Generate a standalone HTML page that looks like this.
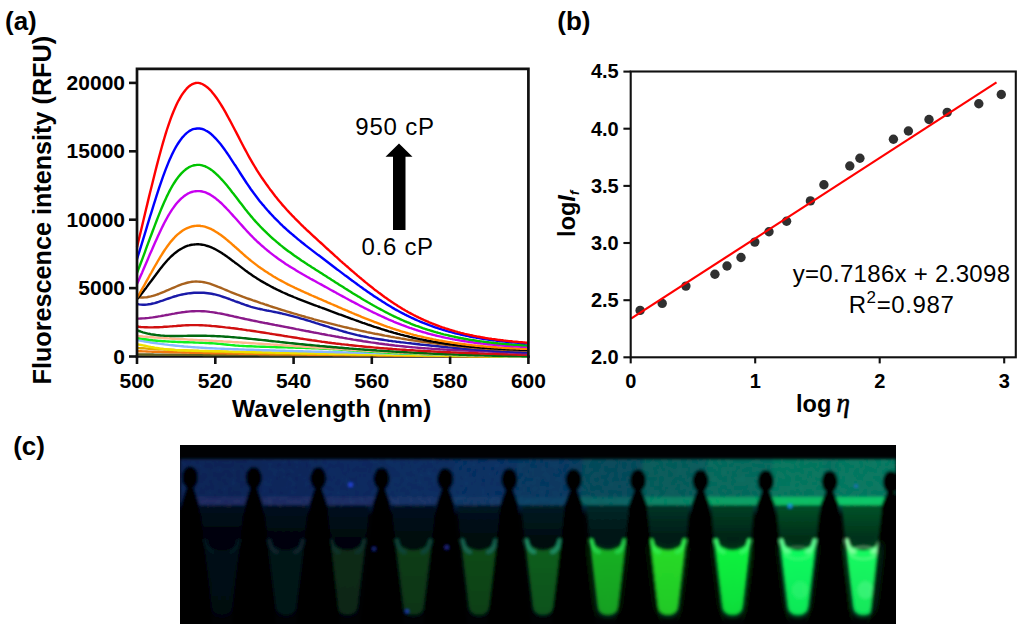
<!DOCTYPE html>
<html><head><meta charset="utf-8"><style>
html,body{margin:0;padding:0;background:#fff;}
body{width:1024px;height:633px;overflow:hidden;}
svg{display:block;}
text{font-family:"Liberation Sans",sans-serif;fill:#000;}
.tb20{font-weight:bold;font-size:21px;}
.tb19{font-weight:bold;font-size:20px;}
.tb24{font-weight:bold;font-size:24.5px;}
.tb25{font-weight:bold;font-size:25.2px;}
.tb23{font-weight:bold;font-size:23.5px;}
.tr23{font-size:24px;}
.pl{font-weight:bold;font-size:26px;}
.eta{font-family:"Liberation Serif",serif;font-style:italic;font-weight:normal;font-size:27px;stroke:#000;stroke-width:0.6px;}
.bi{font-style:italic;}
.sub{font-size:13px;}
.sup{font-size:17px;}
</style></head><body>
<svg width="1024" height="633" viewBox="0 0 1024 633">
<rect width="1024" height="633" fill="#fff"/>
<line x1="135.7" y1="356.5" x2="529.7" y2="356.5" stroke="#111" stroke-width="2.6"/>
<path d="M137.0,354.4 L139.0,354.4 L140.9,354.4 L142.9,354.5 L144.9,354.5 L146.8,354.5 L148.8,354.5 L150.8,354.5 L152.7,354.5 L154.7,354.6 L156.7,354.6 L158.6,354.6 L160.6,354.6 L162.6,354.6 L164.5,354.7 L166.5,354.7 L168.5,354.7 L170.4,354.7 L172.4,354.7 L174.4,354.7 L176.3,354.8 L178.3,354.8 L180.3,354.8 L182.2,354.8 L184.2,354.8 L186.2,354.8 L188.1,354.9 L190.1,354.9 L192.1,354.9 L194.0,354.9 L196.0,354.9 L198.0,354.9 L199.9,354.9 L201.9,354.9 L203.9,355.0 L205.8,355.0 L207.8,355.0 L209.8,355.0 L211.7,355.0 L213.7,355.0 L215.7,355.0 L217.6,355.0 L219.6,355.0 L221.6,355.0 L223.5,355.0 L225.5,355.0 L227.5,355.0 L229.4,355.1 L231.4,355.1 L233.4,355.1 L235.3,355.1 L237.3,355.1 L239.3,355.1 L241.2,355.1 L243.2,355.1 L245.2,355.1 L247.1,355.1 L249.1,355.1 L251.1,355.1 L253.0,355.1 L255.0,355.1 L257.0,355.1 L258.9,355.1 L260.9,355.2 L262.9,355.2 L264.8,355.2 L266.8,355.2 L268.8,355.2 L270.7,355.2 L272.7,355.2 L274.7,355.2 L276.6,355.2 L278.6,355.2 L280.6,355.2 L282.5,355.2 L284.5,355.2 L286.5,355.2 L288.4,355.2 L290.4,355.2 L292.4,355.2 L294.3,355.3 L296.3,355.3 L298.3,355.3 L300.2,355.3 L302.2,355.3 L304.2,355.3 L306.1,355.3 L308.1,355.3 L310.1,355.3 L312.0,355.3 L314.0,355.3 L316.0,355.3 L317.9,355.3 L319.9,355.3 L321.9,355.3 L323.8,355.3 L325.8,355.3 L327.8,355.3 L329.7,355.3 L331.7,355.4 L333.7,355.4 L335.7,355.4 L337.6,355.4 L339.6,355.4 L341.6,355.4 L343.5,355.4 L345.5,355.4 L347.5,355.4 L349.4,355.4 L351.4,355.4 L353.4,355.4 L355.3,355.4 L357.3,355.4 L359.3,355.4 L361.2,355.4 L363.2,355.4 L365.2,355.4 L367.1,355.4 L369.1,355.4 L371.1,355.4 L373.0,355.4 L375.0,355.4 L377.0,355.4 L378.9,355.5 L380.9,355.5 L382.9,355.5 L384.8,355.5 L386.8,355.5 L388.8,355.5 L390.7,355.5 L392.7,355.5 L394.7,355.5 L396.6,355.5 L398.6,355.5 L400.6,355.5 L402.5,355.5 L404.5,355.5 L406.5,355.5 L408.4,355.5 L410.4,355.5 L412.4,355.5 L414.3,355.5 L416.3,355.5 L418.3,355.5 L420.2,355.5 L422.2,355.5 L424.2,355.5 L426.1,355.5 L428.1,355.5 L430.1,355.5 L432.0,355.5 L434.0,355.5 L436.0,355.5 L437.9,355.5 L439.9,355.5 L441.9,355.5 L443.8,355.6 L445.8,355.6 L447.8,355.6 L449.7,355.6 L451.7,355.6 L453.7,355.6 L455.6,355.6 L457.6,355.6 L459.6,355.6 L461.5,355.6 L463.5,355.6 L465.5,355.6 L467.4,355.6 L469.4,355.6 L471.4,355.6 L473.3,355.6 L475.3,355.6 L477.3,355.6 L479.2,355.6 L481.2,355.6 L483.2,355.6 L485.1,355.6 L487.1,355.6 L489.1,355.6 L491.0,355.6 L493.0,355.6 L495.0,355.6 L496.9,355.6 L498.9,355.6 L500.9,355.6 L502.8,355.6 L504.8,355.6 L506.8,355.6 L508.7,355.6 L510.7,355.6 L512.7,355.6 L514.6,355.6 L516.6,355.6 L518.6,355.6 L520.5,355.6 L522.5,355.6 L524.5,355.6 L526.4,355.6 L528.4,355.6" stroke="#606020" stroke-width="2.4" fill="none" stroke-linejoin="round"/>
<path d="M137.0,351.2 L139.0,351.3 L140.9,351.3 L142.9,351.4 L144.9,351.4 L146.8,351.5 L148.8,351.6 L150.8,351.6 L152.7,351.7 L154.7,351.7 L156.7,351.8 L158.6,351.8 L160.6,351.9 L162.6,352.0 L164.5,352.0 L166.5,352.1 L168.5,352.1 L170.4,352.2 L172.4,352.2 L174.4,352.3 L176.3,352.3 L178.3,352.4 L180.3,352.4 L182.2,352.5 L184.2,352.5 L186.2,352.6 L188.1,352.6 L190.1,352.7 L192.1,352.7 L194.0,352.8 L196.0,352.8 L198.0,352.9 L199.9,352.9 L201.9,352.9 L203.9,353.0 L205.8,353.0 L207.8,353.1 L209.8,353.1 L211.7,353.2 L213.7,353.2 L215.7,353.2 L217.6,353.3 L219.6,353.3 L221.6,353.3 L223.5,353.4 L225.5,353.4 L227.5,353.5 L229.4,353.5 L231.4,353.5 L233.4,353.6 L235.3,353.6 L237.3,353.6 L239.3,353.7 L241.2,353.7 L243.2,353.7 L245.2,353.8 L247.1,353.8 L249.1,353.8 L251.1,353.9 L253.0,353.9 L255.0,353.9 L257.0,353.9 L258.9,354.0 L260.9,354.0 L262.9,354.0 L264.8,354.1 L266.8,354.1 L268.8,354.1 L270.7,354.2 L272.7,354.2 L274.7,354.2 L276.6,354.2 L278.6,354.3 L280.6,354.3 L282.5,354.3 L284.5,354.3 L286.5,354.4 L288.4,354.4 L290.4,354.4 L292.4,354.5 L294.3,354.5 L296.3,354.5 L298.3,354.5 L300.2,354.6 L302.2,354.6 L304.2,354.6 L306.1,354.6 L308.1,354.7 L310.1,354.7 L312.0,354.7 L314.0,354.7 L316.0,354.8 L317.9,354.8 L319.9,354.8 L321.9,354.8 L323.8,354.8 L325.8,354.9 L327.8,354.9 L329.7,354.9 L331.7,354.9 L333.7,355.0 L335.7,355.0 L337.6,355.0 L339.6,355.0 L341.6,355.1 L343.5,355.1 L345.5,355.1 L347.5,355.1 L349.4,355.1 L351.4,355.2 L353.4,355.2 L355.3,355.2 L357.3,355.2 L359.3,355.3 L361.2,355.3 L363.2,355.3 L365.2,355.3 L367.1,355.4 L369.1,355.4 L371.1,355.4 L373.0,355.4 L375.0,355.4 L377.0,355.5 L378.9,355.5 L380.9,355.5 L382.9,355.5 L384.8,355.5 L386.8,355.6 L388.8,355.6 L390.7,355.6 L392.7,355.6 L394.7,355.7 L396.6,355.7 L398.6,355.7 L400.6,355.7 L402.5,355.7 L404.5,355.8 L406.5,355.8 L408.4,355.8 L410.4,355.8 L412.4,355.8 L414.3,355.9 L416.3,355.9 L418.3,355.9 L420.2,355.9 L422.2,355.9 L424.2,356.0 L426.1,356.0 L428.1,356.0 L430.1,356.0 L432.0,356.0 L434.0,356.1 L436.0,356.1 L437.9,356.1 L439.9,356.1 L441.9,356.1 L443.8,356.1 L445.8,356.2 L447.8,356.2 L449.7,356.2 L451.7,356.2 L453.7,356.2 L455.6,356.3 L457.6,356.3 L459.6,356.3 L461.5,356.3 L463.5,356.3 L465.5,356.3 L467.4,356.4 L469.4,356.4 L471.4,356.4 L473.3,356.4 L475.3,356.4 L477.3,356.4 L479.2,356.5 L481.2,356.5 L483.2,356.5 L485.1,356.5 L487.1,356.5 L489.1,356.5 L491.0,356.5 L493.0,356.6 L495.0,356.6 L496.9,356.6 L498.9,356.6 L500.9,356.6 L502.8,356.6 L504.8,356.6 L506.8,356.7 L508.7,356.7 L510.7,356.7 L512.7,356.7 L514.6,356.7 L516.6,356.7 L518.6,356.7 L520.5,356.8 L522.5,356.8 L524.5,356.8 L526.4,356.8 L528.4,356.8" stroke="#f07810" stroke-width="2.4" fill="none" stroke-linejoin="round"/>
<path d="M137.0,348.0 L139.0,348.1 L140.9,348.2 L142.9,348.3 L144.9,348.4 L146.8,348.6 L148.8,348.7 L150.8,348.8 L152.7,348.9 L154.7,349.0 L156.7,349.1 L158.6,349.2 L160.6,349.3 L162.6,349.4 L164.5,349.5 L166.5,349.6 L168.5,349.7 L170.4,349.8 L172.4,349.9 L174.4,350.0 L176.3,350.1 L178.3,350.2 L180.3,350.3 L182.2,350.4 L184.2,350.5 L186.2,350.5 L188.1,350.6 L190.1,350.7 L192.1,350.8 L194.0,350.9 L196.0,351.0 L198.0,351.0 L199.9,351.1 L201.9,351.2 L203.9,351.3 L205.8,351.3 L207.8,351.4 L209.8,351.5 L211.7,351.5 L213.7,351.6 L215.7,351.7 L217.6,351.7 L219.6,351.8 L221.6,351.8 L223.5,351.9 L225.5,351.9 L227.5,352.0 L229.4,352.1 L231.4,352.1 L233.4,352.2 L235.3,352.2 L237.3,352.3 L239.3,352.3 L241.2,352.4 L243.2,352.4 L245.2,352.5 L247.1,352.5 L249.1,352.6 L251.1,352.6 L253.0,352.7 L255.0,352.7 L257.0,352.8 L258.9,352.8 L260.9,352.9 L262.9,352.9 L264.8,352.9 L266.8,353.0 L268.8,353.0 L270.7,353.1 L272.7,353.1 L274.7,353.2 L276.6,353.2 L278.6,353.2 L280.6,353.3 L282.5,353.3 L284.5,353.4 L286.5,353.4 L288.4,353.4 L290.4,353.5 L292.4,353.5 L294.3,353.5 L296.3,353.6 L298.3,353.6 L300.2,353.7 L302.2,353.7 L304.2,353.7 L306.1,353.8 L308.1,353.8 L310.1,353.8 L312.0,353.9 L314.0,353.9 L316.0,353.9 L317.9,354.0 L319.9,354.0 L321.9,354.0 L323.8,354.1 L325.8,354.1 L327.8,354.1 L329.7,354.2 L331.7,354.2 L333.7,354.2 L335.7,354.3 L337.6,354.3 L339.6,354.3 L341.6,354.4 L343.5,354.4 L345.5,354.4 L347.5,354.5 L349.4,354.5 L351.4,354.5 L353.4,354.6 L355.3,354.6 L357.3,354.6 L359.3,354.7 L361.2,354.7 L363.2,354.7 L365.2,354.7 L367.1,354.8 L369.1,354.8 L371.1,354.8 L373.0,354.9 L375.0,354.9 L377.0,354.9 L378.9,355.0 L380.9,355.0 L382.9,355.0 L384.8,355.1 L386.8,355.1 L388.8,355.1 L390.7,355.1 L392.7,355.2 L394.7,355.2 L396.6,355.2 L398.6,355.3 L400.6,355.3 L402.5,355.3 L404.5,355.3 L406.5,355.4 L408.4,355.4 L410.4,355.4 L412.4,355.5 L414.3,355.5 L416.3,355.5 L418.3,355.5 L420.2,355.6 L422.2,355.6 L424.2,355.6 L426.1,355.6 L428.1,355.7 L430.1,355.7 L432.0,355.7 L434.0,355.8 L436.0,355.8 L437.9,355.8 L439.9,355.8 L441.9,355.9 L443.8,355.9 L445.8,355.9 L447.8,355.9 L449.7,356.0 L451.7,356.0 L453.7,356.0 L455.6,356.0 L457.6,356.0 L459.6,356.1 L461.5,356.1 L463.5,356.1 L465.5,356.1 L467.4,356.2 L469.4,356.2 L471.4,356.2 L473.3,356.2 L475.3,356.2 L477.3,356.3 L479.2,356.3 L481.2,356.3 L483.2,356.3 L485.1,356.3 L487.1,356.4 L489.1,356.4 L491.0,356.4 L493.0,356.4 L495.0,356.4 L496.9,356.5 L498.9,356.5 L500.9,356.5 L502.8,356.5 L504.8,356.5 L506.8,356.5 L508.7,356.6 L510.7,356.6 L512.7,356.6 L514.6,356.6 L516.6,356.6 L518.6,356.6 L520.5,356.6 L522.5,356.7 L524.5,356.7 L526.4,356.7 L528.4,356.7" stroke="#e0a800" stroke-width="2.4" fill="none" stroke-linejoin="round"/>
<path d="M137.0,344.2 L139.0,344.6 L140.9,345.0 L142.9,345.4 L144.9,345.8 L146.8,346.2 L148.8,346.6 L150.8,347.0 L152.7,347.3 L154.7,347.7 L156.7,348.0 L158.6,348.3 L160.6,348.6 L162.6,348.8 L164.5,349.1 L166.5,349.3 L168.5,349.5 L170.4,349.7 L172.4,349.8 L174.4,350.0 L176.3,350.1 L178.3,350.2 L180.3,350.2 L182.2,350.3 L184.2,350.4 L186.2,350.5 L188.1,350.5 L190.1,350.6 L192.1,350.7 L194.0,350.7 L196.0,350.8 L198.0,350.8 L199.9,350.9 L201.9,350.9 L203.9,351.0 L205.8,351.0 L207.8,351.0 L209.8,351.1 L211.7,351.1 L213.7,351.2 L215.7,351.2 L217.6,351.3 L219.6,351.3 L221.6,351.4 L223.5,351.4 L225.5,351.5 L227.5,351.5 L229.4,351.6 L231.4,351.6 L233.4,351.7 L235.3,351.7 L237.3,351.8 L239.3,351.8 L241.2,351.9 L243.2,351.9 L245.2,352.0 L247.1,352.0 L249.1,352.1 L251.1,352.1 L253.0,352.1 L255.0,352.2 L257.0,352.2 L258.9,352.3 L260.9,352.3 L262.9,352.4 L264.8,352.4 L266.8,352.4 L268.8,352.5 L270.7,352.5 L272.7,352.6 L274.7,352.6 L276.6,352.7 L278.6,352.7 L280.6,352.7 L282.5,352.8 L284.5,352.8 L286.5,352.9 L288.4,352.9 L290.4,352.9 L292.4,353.0 L294.3,353.0 L296.3,353.1 L298.3,353.1 L300.2,353.1 L302.2,353.2 L304.2,353.2 L306.1,353.2 L308.1,353.3 L310.1,353.3 L312.0,353.4 L314.0,353.4 L316.0,353.4 L317.9,353.5 L319.9,353.5 L321.9,353.5 L323.8,353.6 L325.8,353.6 L327.8,353.6 L329.7,353.7 L331.7,353.7 L333.7,353.7 L335.7,353.8 L337.6,353.8 L339.6,353.9 L341.6,353.9 L343.5,353.9 L345.5,354.0 L347.5,354.0 L349.4,354.0 L351.4,354.1 L353.4,354.1 L355.3,354.1 L357.3,354.2 L359.3,354.2 L361.2,354.2 L363.2,354.3 L365.2,354.3 L367.1,354.3 L369.1,354.4 L371.1,354.4 L373.0,354.4 L375.0,354.5 L377.0,354.5 L378.9,354.5 L380.9,354.6 L382.9,354.6 L384.8,354.6 L386.8,354.7 L388.8,354.7 L390.7,354.7 L392.7,354.8 L394.7,354.8 L396.6,354.8 L398.6,354.9 L400.6,354.9 L402.5,354.9 L404.5,355.0 L406.5,355.0 L408.4,355.0 L410.4,355.1 L412.4,355.1 L414.3,355.1 L416.3,355.2 L418.3,355.2 L420.2,355.2 L422.2,355.3 L424.2,355.3 L426.1,355.3 L428.1,355.3 L430.1,355.4 L432.0,355.4 L434.0,355.4 L436.0,355.5 L437.9,355.5 L439.9,355.5 L441.9,355.6 L443.8,355.6 L445.8,355.6 L447.8,355.6 L449.7,355.7 L451.7,355.7 L453.7,355.7 L455.6,355.8 L457.6,355.8 L459.6,355.8 L461.5,355.8 L463.5,355.9 L465.5,355.9 L467.4,355.9 L469.4,356.0 L471.4,356.0 L473.3,356.0 L475.3,356.0 L477.3,356.1 L479.2,356.1 L481.2,356.1 L483.2,356.1 L485.1,356.2 L487.1,356.2 L489.1,356.2 L491.0,356.2 L493.0,356.3 L495.0,356.3 L496.9,356.3 L498.9,356.3 L500.9,356.4 L502.8,356.4 L504.8,356.4 L506.8,356.4 L508.7,356.5 L510.7,356.5 L512.7,356.5 L514.6,356.5 L516.6,356.6 L518.6,356.6 L520.5,356.6 L522.5,356.6 L524.5,356.7 L526.4,356.7 L528.4,356.7" stroke="#f0e000" stroke-width="2.4" fill="none" stroke-linejoin="round"/>
<path d="M137.0,340.0 L139.0,340.4 L140.9,340.8 L142.9,341.1 L144.9,341.5 L146.8,341.8 L148.8,342.1 L150.8,342.5 L152.7,342.8 L154.7,343.1 L156.7,343.3 L158.6,343.6 L160.6,343.9 L162.6,344.1 L164.5,344.4 L166.5,344.6 L168.5,344.9 L170.4,345.1 L172.4,345.3 L174.4,345.5 L176.3,345.7 L178.3,345.9 L180.3,346.1 L182.2,346.3 L184.2,346.5 L186.2,346.6 L188.1,346.8 L190.1,346.9 L192.1,347.1 L194.0,347.2 L196.0,347.4 L198.0,347.5 L199.9,347.6 L201.9,347.7 L203.9,347.9 L205.8,348.0 L207.8,348.1 L209.8,348.2 L211.7,348.3 L213.7,348.4 L215.7,348.5 L217.6,348.6 L219.6,348.6 L221.6,348.7 L223.5,348.8 L225.5,348.9 L227.5,349.0 L229.4,349.0 L231.4,349.1 L233.4,349.2 L235.3,349.2 L237.3,349.3 L239.3,349.4 L241.2,349.5 L243.2,349.5 L245.2,349.6 L247.1,349.7 L249.1,349.7 L251.1,349.8 L253.0,349.8 L255.0,349.9 L257.0,350.0 L258.9,350.0 L260.9,350.1 L262.9,350.2 L264.8,350.2 L266.8,350.3 L268.8,350.3 L270.7,350.4 L272.7,350.5 L274.7,350.5 L276.6,350.6 L278.6,350.6 L280.6,350.7 L282.5,350.8 L284.5,350.8 L286.5,350.9 L288.4,350.9 L290.4,351.0 L292.4,351.0 L294.3,351.1 L296.3,351.1 L298.3,351.2 L300.2,351.3 L302.2,351.3 L304.2,351.4 L306.1,351.4 L308.1,351.5 L310.1,351.5 L312.0,351.6 L314.0,351.6 L316.0,351.7 L317.9,351.7 L319.9,351.8 L321.9,351.8 L323.8,351.9 L325.8,351.9 L327.8,352.0 L329.7,352.0 L331.7,352.1 L333.7,352.1 L335.7,352.2 L337.6,352.2 L339.6,352.3 L341.6,352.3 L343.5,352.4 L345.5,352.4 L347.5,352.4 L349.4,352.5 L351.4,352.5 L353.4,352.6 L355.3,352.6 L357.3,352.7 L359.3,352.7 L361.2,352.8 L363.2,352.8 L365.2,352.9 L367.1,352.9 L369.1,352.9 L371.1,353.0 L373.0,353.0 L375.0,353.1 L377.0,353.1 L378.9,353.2 L380.9,353.2 L382.9,353.3 L384.8,353.3 L386.8,353.3 L388.8,353.4 L390.7,353.4 L392.7,353.5 L394.7,353.5 L396.6,353.6 L398.6,353.6 L400.6,353.6 L402.5,353.7 L404.5,353.7 L406.5,353.8 L408.4,353.8 L410.4,353.9 L412.4,353.9 L414.3,353.9 L416.3,354.0 L418.3,354.0 L420.2,354.1 L422.2,354.1 L424.2,354.2 L426.1,354.2 L428.1,354.2 L430.1,354.3 L432.0,354.3 L434.0,354.4 L436.0,354.4 L437.9,354.5 L439.9,354.5 L441.9,354.5 L443.8,354.6 L445.8,354.6 L447.8,354.7 L449.7,354.7 L451.7,354.8 L453.7,354.8 L455.6,354.9 L457.6,354.9 L459.6,354.9 L461.5,355.0 L463.5,355.0 L465.5,355.1 L467.4,355.1 L469.4,355.2 L471.4,355.2 L473.3,355.3 L475.3,355.3 L477.3,355.4 L479.2,355.4 L481.2,355.4 L483.2,355.5 L485.1,355.5 L487.1,355.6 L489.1,355.6 L491.0,355.7 L493.0,355.7 L495.0,355.8 L496.9,355.8 L498.9,355.9 L500.9,355.9 L502.8,356.0 L504.8,356.0 L506.8,356.1 L508.7,356.1 L510.7,356.2 L512.7,356.2 L514.6,356.3 L516.6,356.3 L518.6,356.4 L520.5,356.4 L522.5,356.5 L524.5,356.6 L526.4,356.6 L528.4,356.7" stroke="#88b8ff" stroke-width="2.4" fill="none" stroke-linejoin="round"/>
<path d="M137.0,338.0 L139.0,338.3 L140.9,338.6 L142.9,338.9 L144.9,339.2 L146.8,339.5 L148.8,339.8 L150.8,340.0 L152.7,340.3 L154.7,340.5 L156.7,340.7 L158.6,340.9 L160.6,341.0 L162.6,341.2 L164.5,341.3 L166.5,341.4 L168.5,341.5 L170.4,341.6 L172.4,341.7 L174.4,341.8 L176.3,341.9 L178.3,342.0 L180.3,342.0 L182.2,342.1 L184.2,342.2 L186.2,342.2 L188.1,342.3 L190.1,342.4 L192.1,342.4 L194.0,342.5 L196.0,342.6 L198.0,342.6 L199.9,342.7 L201.9,342.8 L203.9,342.9 L205.8,343.0 L207.8,343.1 L209.8,343.2 L211.7,343.3 L213.7,343.4 L215.7,343.5 L217.6,343.7 L219.6,343.9 L221.6,344.0 L223.5,344.3 L225.5,344.5 L227.5,344.7 L229.4,344.9 L231.4,345.1 L233.4,345.3 L235.3,345.5 L237.3,345.6 L239.3,345.8 L241.2,345.9 L243.2,346.0 L245.2,346.1 L247.1,346.2 L249.1,346.2 L251.1,346.3 L253.0,346.4 L255.0,346.5 L257.0,346.6 L258.9,346.6 L260.9,346.7 L262.9,346.8 L264.8,346.8 L266.8,346.9 L268.8,346.9 L270.7,347.0 L272.7,347.1 L274.7,347.1 L276.6,347.2 L278.6,347.2 L280.6,347.3 L282.5,347.3 L284.5,347.4 L286.5,347.4 L288.4,347.5 L290.4,347.5 L292.4,347.6 L294.3,347.6 L296.3,347.7 L298.3,347.7 L300.2,347.8 L302.2,347.9 L304.2,347.9 L306.1,348.0 L308.1,348.1 L310.1,348.1 L312.0,348.2 L314.0,348.3 L316.0,348.3 L317.9,348.4 L319.9,348.5 L321.9,348.6 L323.8,348.7 L325.8,348.8 L327.8,348.9 L329.7,349.0 L331.7,349.1 L333.7,349.2 L335.7,349.3 L337.6,349.4 L339.6,349.6 L341.6,349.7 L343.5,349.8 L345.5,349.9 L347.5,350.1 L349.4,350.2 L351.4,350.3 L353.4,350.5 L355.3,350.6 L357.3,350.7 L359.3,350.9 L361.2,351.0 L363.2,351.1 L365.2,351.3 L367.1,351.4 L369.1,351.5 L371.1,351.7 L373.0,351.8 L375.0,351.9 L377.0,352.0 L378.9,352.1 L380.9,352.3 L382.9,352.4 L384.8,352.5 L386.8,352.6 L388.8,352.7 L390.7,352.8 L392.7,352.9 L394.7,353.0 L396.6,353.1 L398.6,353.1 L400.6,353.2 L402.5,353.3 L404.5,353.4 L406.5,353.4 L408.4,353.5 L410.4,353.6 L412.4,353.7 L414.3,353.7 L416.3,353.8 L418.3,353.9 L420.2,353.9 L422.2,354.0 L424.2,354.1 L426.1,354.1 L428.1,354.2 L430.1,354.3 L432.0,354.3 L434.0,354.4 L436.0,354.5 L437.9,354.5 L439.9,354.6 L441.9,354.7 L443.8,354.7 L445.8,354.8 L447.8,354.9 L449.7,354.9 L451.7,355.0 L453.7,355.0 L455.6,355.1 L457.6,355.2 L459.6,355.2 L461.5,355.3 L463.5,355.3 L465.5,355.4 L467.4,355.4 L469.4,355.5 L471.4,355.6 L473.3,355.6 L475.3,355.7 L477.3,355.7 L479.2,355.7 L481.2,355.8 L483.2,355.8 L485.1,355.9 L487.1,355.9 L489.1,356.0 L491.0,356.0 L493.0,356.0 L495.0,356.1 L496.9,356.1 L498.9,356.2 L500.9,356.2 L502.8,356.2 L504.8,356.3 L506.8,356.3 L508.7,356.3 L510.7,356.3 L512.7,356.4 L514.6,356.4 L516.6,356.4 L518.6,356.4 L520.5,356.4 L522.5,356.5 L524.5,356.5 L526.4,356.5 L528.4,356.5" stroke="#10f020" stroke-width="2.4" fill="none" stroke-linejoin="round"/>
<path d="M137.0,335.9 L139.0,336.1 L140.9,336.3 L142.9,336.5 L144.9,336.6 L146.8,336.8 L148.8,337.0 L150.8,337.1 L152.7,337.3 L154.7,337.5 L156.7,337.6 L158.6,337.8 L160.6,337.9 L162.6,338.0 L164.5,338.2 L166.5,338.3 L168.5,338.4 L170.4,338.5 L172.4,338.7 L174.4,338.8 L176.3,338.9 L178.3,339.0 L180.3,339.1 L182.2,339.2 L184.2,339.3 L186.2,339.4 L188.1,339.6 L190.1,339.7 L192.1,339.8 L194.0,339.9 L196.0,340.0 L198.0,340.1 L199.9,340.2 L201.9,340.3 L203.9,340.4 L205.8,340.5 L207.8,340.6 L209.8,340.7 L211.7,340.8 L213.7,340.9 L215.7,341.0 L217.6,341.1 L219.6,341.2 L221.6,341.3 L223.5,341.5 L225.5,341.6 L227.5,341.7 L229.4,341.8 L231.4,341.9 L233.4,342.1 L235.3,342.2 L237.3,342.3 L239.3,342.4 L241.2,342.5 L243.2,342.7 L245.2,342.8 L247.1,342.9 L249.1,343.0 L251.1,343.2 L253.0,343.3 L255.0,343.4 L257.0,343.6 L258.9,343.7 L260.9,343.8 L262.9,343.9 L264.8,344.1 L266.8,344.2 L268.8,344.3 L270.7,344.5 L272.7,344.6 L274.7,344.7 L276.6,344.8 L278.6,345.0 L280.6,345.1 L282.5,345.2 L284.5,345.4 L286.5,345.5 L288.4,345.6 L290.4,345.8 L292.4,345.9 L294.3,346.0 L296.3,346.2 L298.3,346.3 L300.2,346.4 L302.2,346.5 L304.2,346.7 L306.1,346.8 L308.1,346.9 L310.1,347.1 L312.0,347.2 L314.0,347.3 L316.0,347.5 L317.9,347.6 L319.9,347.7 L321.9,347.8 L323.8,348.0 L325.8,348.1 L327.8,348.2 L329.7,348.4 L331.7,348.5 L333.7,348.6 L335.7,348.7 L337.6,348.9 L339.6,349.0 L341.6,349.1 L343.5,349.2 L345.5,349.4 L347.5,349.5 L349.4,349.6 L351.4,349.7 L353.4,349.9 L355.3,350.0 L357.3,350.1 L359.3,350.2 L361.2,350.3 L363.2,350.5 L365.2,350.6 L367.1,350.7 L369.1,350.8 L371.1,350.9 L373.0,351.0 L375.0,351.2 L377.0,351.3 L378.9,351.4 L380.9,351.5 L382.9,351.6 L384.8,351.7 L386.8,351.8 L388.8,351.9 L390.7,352.0 L392.7,352.2 L394.7,352.3 L396.6,352.4 L398.6,352.5 L400.6,352.6 L402.5,352.7 L404.5,352.8 L406.5,352.9 L408.4,353.0 L410.4,353.1 L412.4,353.2 L414.3,353.3 L416.3,353.4 L418.3,353.5 L420.2,353.6 L422.2,353.6 L424.2,353.7 L426.1,353.8 L428.1,353.9 L430.1,354.0 L432.0,354.1 L434.0,354.2 L436.0,354.2 L437.9,354.3 L439.9,354.4 L441.9,354.5 L443.8,354.6 L445.8,354.6 L447.8,354.7 L449.7,354.8 L451.7,354.9 L453.7,354.9 L455.6,355.0 L457.6,355.1 L459.6,355.1 L461.5,355.2 L463.5,355.3 L465.5,355.3 L467.4,355.4 L469.4,355.4 L471.4,355.5 L473.3,355.5 L475.3,355.6 L477.3,355.6 L479.2,355.7 L481.2,355.7 L483.2,355.8 L485.1,355.8 L487.1,355.9 L489.1,355.9 L491.0,356.0 L493.0,356.0 L495.0,356.0 L496.9,356.1 L498.9,356.1 L500.9,356.1 L502.8,356.1 L504.8,356.2 L506.8,356.2 L508.7,356.2 L510.7,356.2 L512.7,356.2 L514.6,356.3 L516.6,356.3 L518.6,356.3 L520.5,356.3 L522.5,356.3 L524.5,356.3 L526.4,356.3 L528.4,356.3" stroke="#ffb890" stroke-width="2.4" fill="none" stroke-linejoin="round"/>
<path d="M137.0,330.3 L139.0,331.0 L140.9,331.7 L142.9,332.3 L144.9,332.8 L146.8,333.3 L148.8,333.8 L150.8,334.2 L152.7,334.5 L154.7,334.8 L156.7,335.1 L158.6,335.3 L160.6,335.5 L162.6,335.6 L164.5,335.8 L166.5,335.9 L168.5,335.9 L170.4,336.0 L172.4,336.0 L174.4,336.0 L176.3,336.0 L178.3,336.0 L180.3,336.0 L182.2,336.0 L184.2,335.9 L186.2,335.9 L188.1,335.8 L190.1,335.8 L192.1,335.8 L194.0,335.8 L196.0,335.7 L198.0,335.7 L199.9,335.7 L201.9,335.8 L203.9,335.8 L205.8,335.8 L207.8,335.9 L209.8,335.9 L211.7,336.0 L213.7,336.0 L215.7,336.1 L217.6,336.2 L219.6,336.3 L221.6,336.4 L223.5,336.5 L225.5,336.7 L227.5,336.8 L229.4,336.9 L231.4,337.1 L233.4,337.2 L235.3,337.4 L237.3,337.6 L239.3,337.7 L241.2,337.9 L243.2,338.1 L245.2,338.3 L247.1,338.5 L249.1,338.7 L251.1,338.9 L253.0,339.1 L255.0,339.3 L257.0,339.5 L258.9,339.7 L260.9,339.9 L262.9,340.1 L264.8,340.3 L266.8,340.5 L268.8,340.8 L270.7,341.0 L272.7,341.2 L274.7,341.4 L276.6,341.6 L278.6,341.8 L280.6,342.1 L282.5,342.3 L284.5,342.5 L286.5,342.7 L288.4,342.9 L290.4,343.1 L292.4,343.3 L294.3,343.5 L296.3,343.7 L298.3,343.9 L300.2,344.1 L302.2,344.3 L304.2,344.5 L306.1,344.7 L308.1,344.9 L310.1,345.0 L312.0,345.2 L314.0,345.4 L316.0,345.6 L317.9,345.8 L319.9,346.0 L321.9,346.1 L323.8,346.3 L325.8,346.5 L327.8,346.7 L329.7,346.8 L331.7,347.0 L333.7,347.2 L335.7,347.3 L337.6,347.5 L339.6,347.7 L341.6,347.8 L343.5,348.0 L345.5,348.2 L347.5,348.3 L349.4,348.5 L351.4,348.6 L353.4,348.8 L355.3,348.9 L357.3,349.1 L359.3,349.2 L361.2,349.4 L363.2,349.5 L365.2,349.7 L367.1,349.8 L369.1,349.9 L371.1,350.1 L373.0,350.2 L375.0,350.3 L377.0,350.5 L378.9,350.6 L380.9,350.7 L382.9,350.9 L384.8,351.0 L386.8,351.1 L388.8,351.2 L390.7,351.4 L392.7,351.5 L394.7,351.6 L396.6,351.7 L398.6,351.8 L400.6,352.0 L402.5,352.1 L404.5,352.2 L406.5,352.3 L408.4,352.4 L410.4,352.5 L412.4,352.6 L414.3,352.7 L416.3,352.8 L418.3,352.9 L420.2,353.0 L422.2,353.1 L424.2,353.2 L426.1,353.3 L428.1,353.4 L430.1,353.5 L432.0,353.6 L434.0,353.7 L436.0,353.8 L437.9,353.8 L439.9,353.9 L441.9,354.0 L443.8,354.1 L445.8,354.2 L447.8,354.3 L449.7,354.3 L451.7,354.4 L453.7,354.5 L455.6,354.6 L457.6,354.6 L459.6,354.7 L461.5,354.8 L463.5,354.8 L465.5,354.9 L467.4,355.0 L469.4,355.0 L471.4,355.1 L473.3,355.1 L475.3,355.2 L477.3,355.3 L479.2,355.3 L481.2,355.4 L483.2,355.4 L485.1,355.5 L487.1,355.5 L489.1,355.6 L491.0,355.6 L493.0,355.7 L495.0,355.7 L496.9,355.7 L498.9,355.8 L500.9,355.8 L502.8,355.9 L504.8,355.9 L506.8,355.9 L508.7,356.0 L510.7,356.0 L512.7,356.0 L514.6,356.1 L516.6,356.1 L518.6,356.1 L520.5,356.1 L522.5,356.2 L524.5,356.2 L526.4,356.2 L528.4,356.2" stroke="#006a10" stroke-width="2.4" fill="none" stroke-linejoin="round"/>
<path d="M137.0,326.5 L139.0,326.8 L140.9,327.0 L142.9,327.1 L144.9,327.2 L146.8,327.3 L148.8,327.4 L150.8,327.4 L152.7,327.4 L154.7,327.3 L156.7,327.3 L158.6,327.2 L160.6,327.1 L162.6,327.0 L164.5,326.8 L166.5,326.7 L168.5,326.6 L170.4,326.4 L172.4,326.3 L174.4,326.1 L176.3,326.0 L178.3,325.8 L180.3,325.7 L182.2,325.5 L184.2,325.4 L186.2,325.3 L188.1,325.2 L190.1,325.1 L192.1,325.1 L194.0,325.1 L196.0,325.1 L198.0,325.1 L199.9,325.2 L201.9,325.3 L203.9,325.4 L205.8,325.5 L207.8,325.6 L209.8,325.8 L211.7,326.0 L213.7,326.1 L215.7,326.3 L217.6,326.5 L219.6,326.7 L221.6,326.9 L223.5,327.1 L225.5,327.4 L227.5,327.6 L229.4,327.8 L231.4,328.1 L233.4,328.3 L235.3,328.5 L237.3,328.8 L239.3,329.1 L241.2,329.3 L243.2,329.6 L245.2,329.9 L247.1,330.2 L249.1,330.4 L251.1,330.7 L253.0,331.0 L255.0,331.3 L257.0,331.6 L258.9,331.9 L260.9,332.2 L262.9,332.5 L264.8,332.8 L266.8,333.1 L268.8,333.4 L270.7,333.8 L272.7,334.1 L274.7,334.4 L276.6,334.7 L278.6,335.0 L280.6,335.3 L282.5,335.6 L284.5,336.0 L286.5,336.3 L288.4,336.6 L290.4,336.9 L292.4,337.2 L294.3,337.5 L296.3,337.8 L298.3,338.1 L300.2,338.5 L302.2,338.8 L304.2,339.1 L306.1,339.4 L308.1,339.7 L310.1,340.0 L312.0,340.3 L314.0,340.5 L316.0,340.8 L317.9,341.1 L319.9,341.4 L321.9,341.7 L323.8,341.9 L325.8,342.2 L327.8,342.5 L329.7,342.7 L331.7,343.0 L333.7,343.2 L335.7,343.5 L337.6,343.7 L339.6,343.9 L341.6,344.2 L343.5,344.4 L345.5,344.6 L347.5,344.8 L349.4,345.1 L351.4,345.3 L353.4,345.5 L355.3,345.7 L357.3,345.9 L359.3,346.1 L361.2,346.3 L363.2,346.5 L365.2,346.7 L367.1,346.9 L369.1,347.0 L371.1,347.2 L373.0,347.4 L375.0,347.6 L377.0,347.7 L378.9,347.9 L380.9,348.1 L382.9,348.2 L384.8,348.4 L386.8,348.5 L388.8,348.7 L390.7,348.8 L392.7,349.0 L394.7,349.1 L396.6,349.3 L398.6,349.4 L400.6,349.6 L402.5,349.7 L404.5,349.8 L406.5,350.0 L408.4,350.1 L410.4,350.2 L412.4,350.3 L414.3,350.4 L416.3,350.6 L418.3,350.7 L420.2,350.8 L422.2,350.9 L424.2,351.0 L426.1,351.1 L428.1,351.2 L430.1,351.3 L432.0,351.4 L434.0,351.5 L436.0,351.6 L437.9,351.7 L439.9,351.8 L441.9,351.9 L443.8,352.0 L445.8,352.1 L447.8,352.2 L449.7,352.3 L451.7,352.4 L453.7,352.4 L455.6,352.5 L457.6,352.6 L459.6,352.7 L461.5,352.8 L463.5,352.8 L465.5,352.9 L467.4,353.0 L469.4,353.1 L471.4,353.1 L473.3,353.2 L475.3,353.3 L477.3,353.3 L479.2,353.4 L481.2,353.5 L483.2,353.5 L485.1,353.6 L487.1,353.7 L489.1,353.7 L491.0,353.8 L493.0,353.9 L495.0,353.9 L496.9,354.0 L498.9,354.1 L500.9,354.1 L502.8,354.2 L504.8,354.2 L506.8,354.3 L508.7,354.4 L510.7,354.4 L512.7,354.5 L514.6,354.5 L516.6,354.6 L518.6,354.7 L520.5,354.7 L522.5,354.8 L524.5,354.8 L526.4,354.9 L528.4,355.0" stroke="#d01010" stroke-width="2.4" fill="none" stroke-linejoin="round"/>
<path d="M137.0,318.6 L139.0,318.6 L140.9,318.5 L142.9,318.4 L144.9,318.3 L146.8,318.1 L148.8,317.9 L150.8,317.6 L152.7,317.4 L154.7,317.1 L156.7,316.8 L158.6,316.4 L160.6,316.1 L162.6,315.7 L164.5,315.4 L166.5,315.0 L168.5,314.7 L170.4,314.3 L172.4,313.9 L174.4,313.6 L176.3,313.2 L178.3,312.9 L180.3,312.6 L182.2,312.3 L184.2,312.1 L186.2,311.8 L188.1,311.6 L190.1,311.4 L192.1,311.3 L194.0,311.2 L196.0,311.1 L198.0,311.1 L199.9,311.1 L201.9,311.2 L203.9,311.3 L205.8,311.4 L207.8,311.6 L209.8,311.9 L211.7,312.1 L213.7,312.4 L215.7,312.7 L217.6,313.1 L219.6,313.4 L221.6,313.8 L223.5,314.2 L225.5,314.6 L227.5,315.0 L229.4,315.5 L231.4,315.9 L233.4,316.3 L235.3,316.8 L237.3,317.2 L239.3,317.7 L241.2,318.1 L243.2,318.5 L245.2,319.0 L247.1,319.4 L249.1,319.8 L251.1,320.2 L253.0,320.6 L255.0,321.0 L257.0,321.4 L258.9,321.8 L260.9,322.2 L262.9,322.6 L264.8,323.0 L266.8,323.3 L268.8,323.7 L270.7,324.1 L272.7,324.5 L274.7,324.9 L276.6,325.2 L278.6,325.6 L280.6,326.0 L282.5,326.4 L284.5,326.8 L286.5,327.1 L288.4,327.5 L290.4,327.9 L292.4,328.3 L294.3,328.7 L296.3,329.1 L298.3,329.4 L300.2,329.8 L302.2,330.2 L304.2,330.6 L306.1,331.0 L308.1,331.3 L310.1,331.7 L312.0,332.1 L314.0,332.5 L316.0,332.8 L317.9,333.2 L319.9,333.6 L321.9,334.0 L323.8,334.3 L325.8,334.7 L327.8,335.1 L329.7,335.4 L331.7,335.8 L333.7,336.1 L335.7,336.5 L337.6,336.8 L339.6,337.2 L341.6,337.5 L343.5,337.9 L345.5,338.2 L347.5,338.6 L349.4,338.9 L351.4,339.2 L353.4,339.6 L355.3,339.9 L357.3,340.2 L359.3,340.5 L361.2,340.8 L363.2,341.2 L365.2,341.5 L367.1,341.8 L369.1,342.1 L371.1,342.4 L373.0,342.6 L375.0,342.9 L377.0,343.2 L378.9,343.5 L380.9,343.7 L382.9,344.0 L384.8,344.3 L386.8,344.5 L388.8,344.8 L390.7,345.0 L392.7,345.2 L394.7,345.5 L396.6,345.7 L398.6,345.9 L400.6,346.1 L402.5,346.3 L404.5,346.5 L406.5,346.7 L408.4,346.9 L410.4,347.1 L412.4,347.3 L414.3,347.4 L416.3,347.6 L418.3,347.8 L420.2,347.9 L422.2,348.1 L424.2,348.2 L426.1,348.4 L428.1,348.5 L430.1,348.6 L432.0,348.8 L434.0,348.9 L436.0,349.0 L437.9,349.1 L439.9,349.3 L441.9,349.4 L443.8,349.5 L445.8,349.6 L447.8,349.7 L449.7,349.8 L451.7,349.9 L453.7,350.0 L455.6,350.1 L457.6,350.2 L459.6,350.3 L461.5,350.4 L463.5,350.4 L465.5,350.5 L467.4,350.6 L469.4,350.7 L471.4,350.8 L473.3,350.9 L475.3,350.9 L477.3,351.0 L479.2,351.1 L481.2,351.2 L483.2,351.3 L485.1,351.4 L487.1,351.4 L489.1,351.5 L491.0,351.6 L493.0,351.7 L495.0,351.8 L496.9,351.9 L498.9,352.0 L500.9,352.1 L502.8,352.1 L504.8,352.2 L506.8,352.3 L508.7,352.4 L510.7,352.5 L512.7,352.6 L514.6,352.7 L516.6,352.9 L518.6,353.0 L520.5,353.1 L522.5,353.2 L524.5,353.3 L526.4,353.4 L528.4,353.6" stroke="#8a1a8a" stroke-width="2.4" fill="none" stroke-linejoin="round"/>
<path d="M137.0,304.0 L139.0,304.4 L140.9,304.6 L142.9,304.7 L144.9,304.7 L146.8,304.6 L148.8,304.3 L150.8,304.0 L152.7,303.5 L154.7,303.1 L156.7,302.5 L158.6,301.9 L160.6,301.2 L162.6,300.6 L164.5,299.9 L166.5,299.2 L168.5,298.5 L170.4,297.8 L172.4,297.2 L174.4,296.5 L176.3,296.0 L178.3,295.4 L180.3,294.9 L182.2,294.5 L184.2,294.1 L186.2,293.7 L188.1,293.4 L190.1,293.2 L192.1,293.0 L194.0,292.8 L196.0,292.7 L198.0,292.7 L199.9,292.7 L201.9,292.7 L203.9,292.8 L205.8,293.0 L207.8,293.2 L209.8,293.5 L211.7,293.8 L213.7,294.2 L215.7,294.7 L217.6,295.2 L219.6,295.7 L221.6,296.3 L223.5,297.0 L225.5,297.6 L227.5,298.3 L229.4,299.0 L231.4,299.8 L233.4,300.5 L235.3,301.3 L237.3,302.0 L239.3,302.7 L241.2,303.5 L243.2,304.2 L245.2,304.9 L247.1,305.5 L249.1,306.2 L251.1,306.8 L253.0,307.3 L255.0,307.8 L257.0,308.3 L258.9,308.8 L260.9,309.2 L262.9,309.7 L264.8,310.1 L266.8,310.5 L268.8,310.8 L270.7,311.2 L272.7,311.6 L274.7,312.0 L276.6,312.4 L278.6,312.8 L280.6,313.2 L282.5,313.7 L284.5,314.1 L286.5,314.6 L288.4,315.1 L290.4,315.6 L292.4,316.1 L294.3,316.6 L296.3,317.2 L298.3,317.7 L300.2,318.3 L302.2,318.9 L304.2,319.4 L306.1,320.0 L308.1,320.6 L310.1,321.2 L312.0,321.8 L314.0,322.4 L316.0,323.1 L317.9,323.7 L319.9,324.3 L321.9,324.9 L323.8,325.5 L325.8,326.1 L327.8,326.7 L329.7,327.4 L331.7,328.0 L333.7,328.6 L335.7,329.2 L337.6,329.7 L339.6,330.3 L341.6,330.9 L343.5,331.5 L345.5,332.0 L347.5,332.6 L349.4,333.1 L351.4,333.6 L353.4,334.1 L355.3,334.6 L357.3,335.1 L359.3,335.5 L361.2,336.0 L363.2,336.4 L365.2,336.8 L367.1,337.2 L369.1,337.6 L371.1,337.9 L373.0,338.3 L375.0,338.6 L377.0,338.9 L378.9,339.2 L380.9,339.5 L382.9,339.8 L384.8,340.1 L386.8,340.4 L388.8,340.7 L390.7,340.9 L392.7,341.2 L394.7,341.4 L396.6,341.7 L398.6,341.9 L400.6,342.2 L402.5,342.4 L404.5,342.6 L406.5,342.9 L408.4,343.1 L410.4,343.3 L412.4,343.6 L414.3,343.8 L416.3,344.0 L418.3,344.2 L420.2,344.5 L422.2,344.7 L424.2,344.9 L426.1,345.1 L428.1,345.3 L430.1,345.5 L432.0,345.7 L434.0,345.9 L436.0,346.1 L437.9,346.3 L439.9,346.5 L441.9,346.7 L443.8,346.9 L445.8,347.1 L447.8,347.3 L449.7,347.4 L451.7,347.6 L453.7,347.8 L455.6,348.0 L457.6,348.2 L459.6,348.3 L461.5,348.5 L463.5,348.7 L465.5,348.8 L467.4,349.0 L469.4,349.1 L471.4,349.3 L473.3,349.4 L475.3,349.6 L477.3,349.7 L479.2,349.9 L481.2,350.0 L483.2,350.1 L485.1,350.3 L487.1,350.4 L489.1,350.5 L491.0,350.6 L493.0,350.8 L495.0,350.9 L496.9,351.0 L498.9,351.1 L500.9,351.2 L502.8,351.3 L504.8,351.4 L506.8,351.5 L508.7,351.6 L510.7,351.7 L512.7,351.8 L514.6,351.9 L516.6,352.0 L518.6,352.0 L520.5,352.1 L522.5,352.2 L524.5,352.3 L526.4,352.3 L528.4,352.4" stroke="#1a1aa8" stroke-width="2.4" fill="none" stroke-linejoin="round"/>
<path d="M137.0,297.1 L139.0,297.4 L140.9,297.5 L142.9,297.5 L144.9,297.4 L146.8,297.2 L148.8,296.8 L150.8,296.4 L152.7,295.9 L154.7,295.3 L156.7,294.7 L158.6,294.0 L160.6,293.2 L162.6,292.4 L164.5,291.6 L166.5,290.7 L168.5,289.9 L170.4,289.0 L172.4,288.1 L174.4,287.3 L176.3,286.5 L178.3,285.7 L180.3,284.9 L182.2,284.2 L184.2,283.6 L186.2,283.0 L188.1,282.5 L190.1,282.1 L192.1,281.8 L194.0,281.6 L196.0,281.5 L198.0,281.6 L199.9,281.7 L201.9,281.9 L203.9,282.3 L205.8,282.7 L207.8,283.2 L209.8,283.7 L211.7,284.4 L213.7,285.1 L215.7,285.8 L217.6,286.6 L219.6,287.3 L221.6,288.2 L223.5,289.0 L225.5,289.8 L227.5,290.7 L229.4,291.5 L231.4,292.3 L233.4,293.1 L235.3,293.9 L237.3,294.7 L239.3,295.4 L241.2,296.1 L243.2,296.9 L245.2,297.6 L247.1,298.3 L249.1,299.0 L251.1,299.7 L253.0,300.4 L255.0,301.0 L257.0,301.7 L258.9,302.4 L260.9,303.1 L262.9,303.7 L264.8,304.4 L266.8,305.0 L268.8,305.7 L270.7,306.3 L272.7,307.0 L274.7,307.6 L276.6,308.2 L278.6,308.8 L280.6,309.5 L282.5,310.1 L284.5,310.7 L286.5,311.3 L288.4,311.9 L290.4,312.5 L292.4,313.1 L294.3,313.7 L296.3,314.2 L298.3,314.8 L300.2,315.4 L302.2,316.0 L304.2,316.5 L306.1,317.1 L308.1,317.6 L310.1,318.2 L312.0,318.7 L314.0,319.3 L316.0,319.8 L317.9,320.3 L319.9,320.9 L321.9,321.4 L323.8,321.9 L325.8,322.4 L327.8,322.9 L329.7,323.4 L331.7,323.9 L333.7,324.4 L335.7,324.9 L337.6,325.4 L339.6,325.8 L341.6,326.3 L343.5,326.8 L345.5,327.3 L347.5,327.7 L349.4,328.2 L351.4,328.6 L353.4,329.1 L355.3,329.5 L357.3,329.9 L359.3,330.4 L361.2,330.8 L363.2,331.2 L365.2,331.6 L367.1,332.1 L369.1,332.5 L371.1,332.9 L373.0,333.3 L375.0,333.7 L377.0,334.0 L378.9,334.4 L380.9,334.8 L382.9,335.2 L384.8,335.6 L386.8,335.9 L388.8,336.3 L390.7,336.7 L392.7,337.0 L394.7,337.4 L396.6,337.7 L398.6,338.0 L400.6,338.4 L402.5,338.7 L404.5,339.0 L406.5,339.4 L408.4,339.7 L410.4,340.0 L412.4,340.3 L414.3,340.6 L416.3,340.9 L418.3,341.2 L420.2,341.5 L422.2,341.8 L424.2,342.0 L426.1,342.3 L428.1,342.6 L430.1,342.9 L432.0,343.1 L434.0,343.4 L436.0,343.6 L437.9,343.9 L439.9,344.1 L441.9,344.4 L443.8,344.6 L445.8,344.8 L447.8,345.1 L449.7,345.3 L451.7,345.5 L453.7,345.7 L455.6,345.9 L457.6,346.1 L459.6,346.3 L461.5,346.5 L463.5,346.7 L465.5,346.9 L467.4,347.1 L469.4,347.3 L471.4,347.5 L473.3,347.6 L475.3,347.8 L477.3,348.0 L479.2,348.1 L481.2,348.3 L483.2,348.4 L485.1,348.6 L487.1,348.7 L489.1,348.8 L491.0,349.0 L493.0,349.1 L495.0,349.2 L496.9,349.3 L498.9,349.4 L500.9,349.6 L502.8,349.7 L504.8,349.8 L506.8,349.9 L508.7,349.9 L510.7,350.0 L512.7,350.1 L514.6,350.2 L516.6,350.3 L518.6,350.3 L520.5,350.4 L522.5,350.5 L524.5,350.5 L526.4,350.6 L528.4,350.6" stroke="#a8621e" stroke-width="2.4" fill="none" stroke-linejoin="round"/>
<path d="M137.0,299.1 L138.3,297.7 L139.6,296.1 L140.9,294.6 L142.2,292.9 L143.5,291.3 L144.8,289.6 L146.1,287.9 L147.4,286.1 L148.7,284.3 L150.0,282.6 L151.4,280.8 L152.7,279.0 L154.0,277.2 L155.3,275.5 L156.6,273.7 L157.9,272.0 L159.2,270.2 L160.5,268.6 L161.8,266.9 L163.1,265.3 L164.4,263.7 L165.7,262.2 L167.0,260.7 L168.3,259.3 L169.6,258.0 L170.9,256.7 L172.2,255.5 L173.5,254.3 L174.8,253.2 L176.1,252.2 L177.4,251.2 L178.7,250.3 L180.1,249.4 L181.4,248.7 L182.7,248.0 L184.0,247.3 L185.3,246.7 L186.6,246.2 L187.9,245.7 L189.2,245.4 L190.5,245.0 L191.8,244.8 L193.1,244.6 L194.4,244.5 L195.7,244.4 L197.0,244.3 L198.3,244.3 L199.6,244.4 L200.9,244.5 L202.2,244.7 L203.5,244.9 L204.8,245.2 L206.1,245.6 L207.5,246.0 L208.8,246.4 L210.1,246.9 L211.4,247.4 L212.7,248.0 L214.0,248.6 L215.3,249.3 L216.6,250.0 L217.9,250.7 L219.2,251.5 L220.5,252.3 L221.8,253.1 L223.1,254.0 L224.4,254.8 L225.7,255.7 L227.0,256.6 L228.3,257.6 L229.6,258.5 L230.9,259.5 L232.2,260.5 L233.5,261.4 L234.8,262.4 L236.2,263.4 L237.5,264.4 L238.8,265.4 L240.1,266.4 L241.4,267.4 L242.7,268.4 L244.0,269.4 L245.3,270.4 L246.6,271.3 L247.9,272.3 L249.2,273.2 L250.5,274.1 L251.8,275.0 L253.1,275.9 L254.4,276.8 L255.7,277.6 L257.0,278.4 L258.3,279.3 L259.6,280.1 L260.9,280.9 L262.2,281.6 L263.6,282.4 L264.9,283.1 L266.2,283.9 L267.5,284.6 L268.8,285.3 L270.1,286.0 L271.4,286.7 L272.7,287.4 L274.0,288.1 L275.3,288.7 L276.6,289.4 L277.9,290.0 L279.2,290.6 L280.5,291.2 L281.8,291.9 L283.1,292.5 L284.4,293.0 L285.7,293.6 L287.0,294.2 L288.3,294.8 L289.6,295.3 L291.0,295.9 L292.3,296.4 L293.6,297.0 L294.9,297.5 L296.2,298.0 L297.5,298.6 L298.8,299.1 L300.1,299.6 L301.4,300.1 L302.7,300.6 L304.0,301.1 L305.3,301.6 L306.6,302.1 L307.9,302.6 L309.2,303.1 L310.5,303.6 L311.8,304.1 L313.1,304.6 L314.4,305.1 L315.7,305.5 L317.0,306.0 L318.3,306.5 L319.7,307.0 L321.0,307.5 L322.3,308.0 L323.6,308.4 L324.9,308.9 L326.2,309.4 L327.5,309.9 L328.8,310.4 L330.1,310.9 L331.4,311.4 L332.7,311.8 L334.0,312.3 L335.3,312.8 L336.6,313.3 L337.9,313.8 L339.2,314.3 L340.5,314.7 L341.8,315.2 L343.1,315.7 L344.4,316.2 L345.7,316.7 L347.1,317.1 L348.4,317.6 L349.7,318.1 L351.0,318.6 L352.3,319.0 L353.6,319.5 L354.9,320.0 L356.2,320.5 L357.5,320.9 L358.8,321.4 L360.1,321.8 L361.4,322.3 L362.7,322.8 L364.0,323.2 L365.3,323.7 L366.6,324.1 L367.9,324.6 L369.2,325.0 L370.5,325.4 L371.8,325.9 L373.1,326.3 L374.4,326.8 L375.8,327.2 L377.1,327.6 L378.4,328.0 L379.7,328.4 L381.0,328.9 L382.3,329.3 L383.6,329.7 L384.9,330.1 L386.2,330.5 L387.5,330.9 L388.8,331.3 L390.1,331.6 L391.4,332.0 L392.7,332.4 L394.0,332.8 L395.3,333.1 L396.6,333.5 L397.9,333.9 L399.2,334.2 L400.5,334.6 L401.8,334.9 L403.2,335.2 L404.5,335.6 L405.8,335.9 L407.1,336.2 L408.4,336.5 L409.7,336.9 L411.0,337.2 L412.3,337.5 L413.6,337.8 L414.9,338.0 L416.2,338.3 L417.5,338.6 L418.8,338.9 L420.1,339.2 L421.4,339.4 L422.7,339.7 L424.0,340.0 L425.3,340.2 L426.6,340.5 L427.9,340.7 L429.2,341.0 L430.6,341.2 L431.9,341.4 L433.2,341.7 L434.5,341.9 L435.8,342.1 L437.1,342.3 L438.4,342.5 L439.7,342.7 L441.0,342.9 L442.3,343.1 L443.6,343.3 L444.9,343.5 L446.2,343.7 L447.5,343.9 L448.8,344.1 L450.1,344.3 L451.4,344.4 L452.7,344.6 L454.0,344.8 L455.3,344.9 L456.6,345.1 L457.9,345.3 L459.3,345.4 L460.6,345.6 L461.9,345.7 L463.2,345.9 L464.5,346.0 L465.8,346.1 L467.1,346.3 L468.4,346.4 L469.7,346.5 L471.0,346.7 L472.3,346.8 L473.6,346.9 L474.9,347.0 L476.2,347.1 L477.5,347.2 L478.8,347.3 L480.1,347.5 L481.4,347.6 L482.7,347.7 L484.0,347.8 L485.3,347.9 L486.7,347.9 L488.0,348.0 L489.3,348.1 L490.6,348.2 L491.9,348.3 L493.2,348.4 L494.5,348.5 L495.8,348.5 L497.1,348.6 L498.4,348.7 L499.7,348.8 L501.0,348.8 L502.3,348.9 L503.6,349.0 L504.9,349.0 L506.2,349.1 L507.5,349.2 L508.8,349.2 L510.1,349.3 L511.4,349.3 L512.7,349.4 L514.0,349.5 L515.4,349.5 L516.7,349.6 L518.0,349.6 L519.3,349.7 L520.6,349.7 L521.9,349.8 L523.2,349.8 L524.5,349.9 L525.8,349.9 L527.1,349.9 L528.4,350.0" stroke="#000000" stroke-width="2.4" fill="none" stroke-linejoin="round"/>
<path d="M137.0,297.9 L138.3,295.7 L139.6,293.5 L140.9,291.2 L142.2,288.9 L143.5,286.6 L144.8,284.3 L146.1,281.9 L147.4,279.6 L148.7,277.2 L150.0,274.8 L151.4,272.5 L152.7,270.2 L154.0,267.8 L155.3,265.5 L156.6,263.3 L157.9,261.0 L159.2,258.8 L160.5,256.7 L161.8,254.6 L163.1,252.5 L164.4,250.5 L165.7,248.6 L167.0,246.8 L168.3,245.0 L169.6,243.3 L170.9,241.6 L172.2,240.1 L173.5,238.6 L174.8,237.2 L176.1,235.9 L177.4,234.7 L178.7,233.6 L180.1,232.5 L181.4,231.5 L182.7,230.6 L184.0,229.8 L185.3,229.0 L186.6,228.4 L187.9,227.8 L189.2,227.3 L190.5,226.8 L191.8,226.5 L193.1,226.2 L194.4,226.0 L195.7,225.9 L197.0,225.8 L198.3,225.8 L199.6,225.8 L200.9,226.0 L202.2,226.1 L203.5,226.4 L204.8,226.7 L206.1,227.1 L207.5,227.6 L208.8,228.1 L210.1,228.6 L211.4,229.2 L212.7,229.9 L214.0,230.6 L215.3,231.4 L216.6,232.2 L217.9,233.0 L219.2,233.9 L220.5,234.8 L221.8,235.8 L223.1,236.8 L224.4,237.8 L225.7,238.8 L227.0,239.9 L228.3,241.0 L229.6,242.1 L230.9,243.2 L232.2,244.4 L233.5,245.5 L234.8,246.7 L236.2,247.8 L237.5,249.0 L238.8,250.2 L240.1,251.4 L241.4,252.5 L242.7,253.7 L244.0,254.8 L245.3,256.0 L246.6,257.1 L247.9,258.2 L249.2,259.3 L250.5,260.3 L251.8,261.4 L253.1,262.4 L254.4,263.4 L255.7,264.4 L257.0,265.4 L258.3,266.4 L259.6,267.3 L260.9,268.2 L262.2,269.1 L263.6,270.0 L264.9,270.9 L266.2,271.8 L267.5,272.6 L268.8,273.5 L270.1,274.3 L271.4,275.1 L272.7,275.9 L274.0,276.7 L275.3,277.4 L276.6,278.2 L277.9,279.0 L279.2,279.7 L280.5,280.4 L281.8,281.1 L283.1,281.8 L284.4,282.5 L285.7,283.2 L287.0,283.9 L288.3,284.6 L289.6,285.2 L291.0,285.9 L292.3,286.5 L293.6,287.1 L294.9,287.8 L296.2,288.4 L297.5,289.0 L298.8,289.6 L300.1,290.2 L301.4,290.8 L302.7,291.4 L304.0,292.0 L305.3,292.6 L306.6,293.2 L307.9,293.7 L309.2,294.3 L310.5,294.9 L311.8,295.5 L313.1,296.0 L314.4,296.6 L315.7,297.2 L317.0,297.7 L318.3,298.3 L319.7,298.9 L321.0,299.4 L322.3,300.0 L323.6,300.6 L324.9,301.1 L326.2,301.7 L327.5,302.3 L328.8,302.8 L330.1,303.4 L331.4,304.0 L332.7,304.5 L334.0,305.1 L335.3,305.7 L336.6,306.2 L337.9,306.8 L339.2,307.4 L340.5,307.9 L341.8,308.5 L343.1,309.1 L344.4,309.6 L345.7,310.2 L347.1,310.7 L348.4,311.3 L349.7,311.9 L351.0,312.4 L352.3,313.0 L353.6,313.5 L354.9,314.1 L356.2,314.6 L357.5,315.1 L358.8,315.7 L360.1,316.2 L361.4,316.8 L362.7,317.3 L364.0,317.8 L365.3,318.4 L366.6,318.9 L367.9,319.4 L369.2,319.9 L370.5,320.4 L371.8,320.9 L373.1,321.4 L374.4,322.0 L375.8,322.4 L377.1,322.9 L378.4,323.4 L379.7,323.9 L381.0,324.4 L382.3,324.9 L383.6,325.4 L384.9,325.8 L386.2,326.3 L387.5,326.8 L388.8,327.2 L390.1,327.7 L391.4,328.1 L392.7,328.5 L394.0,329.0 L395.3,329.4 L396.6,329.8 L397.9,330.2 L399.2,330.6 L400.5,331.1 L401.8,331.5 L403.2,331.8 L404.5,332.2 L405.8,332.6 L407.1,333.0 L408.4,333.4 L409.7,333.7 L411.0,334.1 L412.3,334.4 L413.6,334.8 L414.9,335.1 L416.2,335.4 L417.5,335.8 L418.8,336.1 L420.1,336.4 L421.4,336.7 L422.7,337.0 L424.0,337.3 L425.3,337.6 L426.6,337.9 L427.9,338.2 L429.2,338.5 L430.6,338.8 L431.9,339.0 L433.2,339.3 L434.5,339.6 L435.8,339.8 L437.1,340.1 L438.4,340.3 L439.7,340.6 L441.0,340.8 L442.3,341.0 L443.6,341.3 L444.9,341.5 L446.2,341.7 L447.5,341.9 L448.8,342.1 L450.1,342.3 L451.4,342.5 L452.7,342.7 L454.0,342.9 L455.3,343.1 L456.6,343.3 L457.9,343.5 L459.3,343.7 L460.6,343.8 L461.9,344.0 L463.2,344.2 L464.5,344.3 L465.8,344.5 L467.1,344.7 L468.4,344.8 L469.7,345.0 L471.0,345.1 L472.3,345.3 L473.6,345.4 L474.9,345.5 L476.2,345.7 L477.5,345.8 L478.8,345.9 L480.1,346.0 L481.4,346.2 L482.7,346.3 L484.0,346.4 L485.3,346.5 L486.7,346.6 L488.0,346.7 L489.3,346.8 L490.6,346.9 L491.9,347.0 L493.2,347.1 L494.5,347.2 L495.8,347.3 L497.1,347.4 L498.4,347.5 L499.7,347.6 L501.0,347.6 L502.3,347.7 L503.6,347.8 L504.9,347.9 L506.2,348.0 L507.5,348.0 L508.8,348.1 L510.1,348.2 L511.4,348.2 L512.7,348.3 L514.0,348.4 L515.4,348.4 L516.7,348.5 L518.0,348.6 L519.3,348.6 L520.6,348.7 L521.9,348.7 L523.2,348.8 L524.5,348.8 L525.8,348.9 L527.1,348.9 L528.4,349.0" stroke="#ff8400" stroke-width="2.4" fill="none" stroke-linejoin="round"/>
<path d="M137.0,284.1 L138.3,281.2 L139.6,278.3 L140.9,275.3 L142.2,272.4 L143.5,269.3 L144.8,266.3 L146.1,263.3 L147.4,260.2 L148.7,257.1 L150.0,254.1 L151.4,251.1 L152.7,248.0 L154.0,245.0 L155.3,242.1 L156.6,239.2 L157.9,236.3 L159.2,233.5 L160.5,230.7 L161.8,228.0 L163.1,225.4 L164.4,222.8 L165.7,220.4 L167.0,218.0 L168.3,215.7 L169.6,213.5 L170.9,211.4 L172.2,209.4 L173.5,207.6 L174.8,205.8 L176.1,204.1 L177.4,202.5 L178.7,201.1 L180.1,199.7 L181.4,198.4 L182.7,197.3 L184.0,196.2 L185.3,195.2 L186.6,194.4 L187.9,193.6 L189.2,193.0 L190.5,192.4 L191.8,192.0 L193.1,191.6 L194.4,191.4 L195.7,191.2 L197.0,191.1 L198.3,191.1 L199.6,191.1 L200.9,191.3 L202.2,191.5 L203.5,191.8 L204.8,192.2 L206.1,192.7 L207.5,193.3 L208.8,193.9 L210.1,194.6 L211.4,195.4 L212.7,196.3 L214.0,197.2 L215.3,198.1 L216.6,199.2 L217.9,200.2 L219.2,201.4 L220.5,202.5 L221.8,203.7 L223.1,205.0 L224.4,206.3 L225.7,207.6 L227.0,209.0 L228.3,210.3 L229.6,211.8 L230.9,213.2 L232.2,214.6 L233.5,216.1 L234.8,217.5 L236.2,219.0 L237.5,220.5 L238.8,222.0 L240.1,223.5 L241.4,224.9 L242.7,226.4 L244.0,227.9 L245.3,229.3 L246.6,230.7 L247.9,232.1 L249.2,233.5 L250.5,234.9 L251.8,236.2 L253.1,237.5 L254.4,238.8 L255.7,240.0 L257.0,241.3 L258.3,242.5 L259.6,243.7 L260.9,244.9 L262.2,246.0 L263.6,247.2 L264.9,248.3 L266.2,249.4 L267.5,250.5 L268.8,251.5 L270.1,252.6 L271.4,253.6 L272.7,254.6 L274.0,255.6 L275.3,256.6 L276.6,257.5 L277.9,258.5 L279.2,259.4 L280.5,260.3 L281.8,261.2 L283.1,262.1 L284.4,263.0 L285.7,263.9 L287.0,264.7 L288.3,265.6 L289.6,266.4 L291.0,267.2 L292.3,268.0 L293.6,268.8 L294.9,269.6 L296.2,270.4 L297.5,271.2 L298.8,272.0 L300.1,272.7 L301.4,273.5 L302.7,274.3 L304.0,275.0 L305.3,275.7 L306.6,276.5 L307.9,277.2 L309.2,277.9 L310.5,278.7 L311.8,279.4 L313.1,280.1 L314.4,280.8 L315.7,281.5 L317.0,282.3 L318.3,283.0 L319.7,283.7 L321.0,284.4 L322.3,285.1 L323.6,285.9 L324.9,286.6 L326.2,287.3 L327.5,288.0 L328.8,288.7 L330.1,289.5 L331.4,290.2 L332.7,290.9 L334.0,291.6 L335.3,292.3 L336.6,293.1 L337.9,293.8 L339.2,294.5 L340.5,295.2 L341.8,295.9 L343.1,296.6 L344.4,297.3 L345.7,298.0 L347.1,298.7 L348.4,299.5 L349.7,300.2 L351.0,300.9 L352.3,301.6 L353.6,302.2 L354.9,302.9 L356.2,303.6 L357.5,304.3 L358.8,305.0 L360.1,305.7 L361.4,306.4 L362.7,307.0 L364.0,307.7 L365.3,308.4 L366.6,309.0 L367.9,309.7 L369.2,310.3 L370.5,311.0 L371.8,311.6 L373.1,312.3 L374.4,312.9 L375.8,313.5 L377.1,314.2 L378.4,314.8 L379.7,315.4 L381.0,316.0 L382.3,316.6 L383.6,317.2 L384.9,317.8 L386.2,318.4 L387.5,319.0 L388.8,319.6 L390.1,320.1 L391.4,320.7 L392.7,321.2 L394.0,321.8 L395.3,322.3 L396.6,322.9 L397.9,323.4 L399.2,323.9 L400.5,324.4 L401.8,324.9 L403.2,325.4 L404.5,325.9 L405.8,326.4 L407.1,326.9 L408.4,327.3 L409.7,327.8 L411.0,328.2 L412.3,328.7 L413.6,329.1 L414.9,329.5 L416.2,330.0 L417.5,330.4 L418.8,330.8 L420.1,331.2 L421.4,331.6 L422.7,332.0 L424.0,332.3 L425.3,332.7 L426.6,333.1 L427.9,333.5 L429.2,333.8 L430.6,334.2 L431.9,334.5 L433.2,334.8 L434.5,335.2 L435.8,335.5 L437.1,335.8 L438.4,336.1 L439.7,336.4 L441.0,336.7 L442.3,337.0 L443.6,337.3 L444.9,337.6 L446.2,337.9 L447.5,338.1 L448.8,338.4 L450.1,338.7 L451.4,338.9 L452.7,339.2 L454.0,339.4 L455.3,339.7 L456.6,339.9 L457.9,340.1 L459.3,340.3 L460.6,340.6 L461.9,340.8 L463.2,341.0 L464.5,341.2 L465.8,341.4 L467.1,341.6 L468.4,341.8 L469.7,342.0 L471.0,342.2 L472.3,342.3 L473.6,342.5 L474.9,342.7 L476.2,342.9 L477.5,343.0 L478.8,343.2 L480.1,343.3 L481.4,343.5 L482.7,343.6 L484.0,343.8 L485.3,343.9 L486.7,344.1 L488.0,344.2 L489.3,344.3 L490.6,344.5 L491.9,344.6 L493.2,344.7 L494.5,344.8 L495.8,344.9 L497.1,345.0 L498.4,345.2 L499.7,345.3 L501.0,345.4 L502.3,345.5 L503.6,345.6 L504.9,345.7 L506.2,345.8 L507.5,345.8 L508.8,345.9 L510.1,346.0 L511.4,346.1 L512.7,346.2 L514.0,346.3 L515.4,346.4 L516.7,346.4 L518.0,346.5 L519.3,346.6 L520.6,346.7 L521.9,346.7 L523.2,346.8 L524.5,346.9 L525.8,346.9 L527.1,347.0 L528.4,347.1" stroke="#c800f0" stroke-width="2.4" fill="none" stroke-linejoin="round"/>
<path d="M137.0,273.0 L138.3,269.6 L139.6,266.2 L140.9,262.8 L142.2,259.3 L143.5,255.8 L144.8,252.3 L146.1,248.7 L147.4,245.2 L148.7,241.6 L150.0,238.1 L151.4,234.5 L152.7,231.0 L154.0,227.6 L155.3,224.1 L156.6,220.7 L157.9,217.4 L159.2,214.1 L160.5,210.9 L161.8,207.8 L163.1,204.7 L164.4,201.8 L165.7,198.9 L167.0,196.1 L168.3,193.5 L169.6,190.9 L170.9,188.5 L172.2,186.2 L173.5,184.0 L174.8,182.0 L176.1,180.0 L177.4,178.2 L178.7,176.5 L180.1,174.9 L181.4,173.4 L182.7,172.1 L184.0,170.9 L185.3,169.8 L186.6,168.8 L187.9,167.9 L189.2,167.1 L190.5,166.5 L191.8,166.0 L193.1,165.5 L194.4,165.3 L195.7,165.1 L197.0,164.9 L198.3,164.9 L199.6,164.9 L200.9,165.1 L202.2,165.4 L203.5,165.8 L204.8,166.2 L206.1,166.8 L207.5,167.5 L208.8,168.2 L210.1,169.0 L211.4,169.9 L212.7,170.9 L214.0,172.0 L215.3,173.1 L216.6,174.3 L217.9,175.5 L219.2,176.8 L220.5,178.2 L221.8,179.6 L223.1,181.0 L224.4,182.5 L225.7,184.0 L227.0,185.6 L228.3,187.2 L229.6,188.8 L230.9,190.5 L232.2,192.2 L233.5,193.8 L234.8,195.5 L236.2,197.3 L237.5,199.0 L238.8,200.7 L240.1,202.4 L241.4,204.1 L242.7,205.8 L244.0,207.5 L245.3,209.2 L246.6,210.8 L247.9,212.4 L249.2,214.0 L250.5,215.6 L251.8,217.1 L253.1,218.7 L254.4,220.1 L255.7,221.6 L257.0,223.0 L258.3,224.4 L259.6,225.8 L260.9,227.2 L262.2,228.5 L263.6,229.8 L264.9,231.1 L266.2,232.4 L267.5,233.7 L268.8,234.9 L270.1,236.1 L271.4,237.3 L272.7,238.5 L274.0,239.6 L275.3,240.7 L276.6,241.8 L277.9,242.9 L279.2,244.0 L280.5,245.1 L281.8,246.1 L283.1,247.2 L284.4,248.2 L285.7,249.2 L287.0,250.2 L288.3,251.2 L289.6,252.1 L291.0,253.1 L292.3,254.0 L293.6,255.0 L294.9,255.9 L296.2,256.8 L297.5,257.7 L298.8,258.6 L300.1,259.5 L301.4,260.4 L302.7,261.2 L304.0,262.1 L305.3,263.0 L306.6,263.8 L307.9,264.7 L309.2,265.5 L310.5,266.3 L311.8,267.2 L313.1,268.0 L314.4,268.8 L315.7,269.7 L317.0,270.5 L318.3,271.3 L319.7,272.2 L321.0,273.0 L322.3,273.8 L323.6,274.7 L324.9,275.5 L326.2,276.3 L327.5,277.2 L328.8,278.0 L330.1,278.8 L331.4,279.7 L332.7,280.5 L334.0,281.3 L335.3,282.2 L336.6,283.0 L337.9,283.8 L339.2,284.7 L340.5,285.5 L341.8,286.3 L343.1,287.1 L344.4,288.0 L345.7,288.8 L347.1,289.6 L348.4,290.4 L349.7,291.2 L351.0,292.0 L352.3,292.9 L353.6,293.7 L354.9,294.5 L356.2,295.3 L357.5,296.1 L358.8,296.8 L360.1,297.6 L361.4,298.4 L362.7,299.2 L364.0,300.0 L365.3,300.7 L366.6,301.5 L367.9,302.3 L369.2,303.0 L370.5,303.8 L371.8,304.5 L373.1,305.3 L374.4,306.0 L375.8,306.7 L377.1,307.5 L378.4,308.2 L379.7,308.9 L381.0,309.6 L382.3,310.3 L383.6,311.0 L384.9,311.7 L386.2,312.4 L387.5,313.0 L388.8,313.7 L390.1,314.4 L391.4,315.0 L392.7,315.7 L394.0,316.3 L395.3,316.9 L396.6,317.5 L397.9,318.1 L399.2,318.7 L400.5,319.3 L401.8,319.9 L403.2,320.5 L404.5,321.1 L405.8,321.6 L407.1,322.2 L408.4,322.7 L409.7,323.2 L411.0,323.8 L412.3,324.3 L413.6,324.8 L414.9,325.3 L416.2,325.8 L417.5,326.2 L418.8,326.7 L420.1,327.2 L421.4,327.6 L422.7,328.1 L424.0,328.5 L425.3,329.0 L426.6,329.4 L427.9,329.8 L429.2,330.2 L430.6,330.6 L431.9,331.0 L433.2,331.4 L434.5,331.8 L435.8,332.2 L437.1,332.5 L438.4,332.9 L439.7,333.2 L441.0,333.6 L442.3,333.9 L443.6,334.3 L444.9,334.6 L446.2,334.9 L447.5,335.2 L448.8,335.5 L450.1,335.8 L451.4,336.1 L452.7,336.4 L454.0,336.7 L455.3,337.0 L456.6,337.3 L457.9,337.5 L459.3,337.8 L460.6,338.0 L461.9,338.3 L463.2,338.5 L464.5,338.8 L465.8,339.0 L467.1,339.2 L468.4,339.5 L469.7,339.7 L471.0,339.9 L472.3,340.1 L473.6,340.3 L474.9,340.5 L476.2,340.7 L477.5,340.9 L478.8,341.1 L480.1,341.3 L481.4,341.4 L482.7,341.6 L484.0,341.8 L485.3,341.9 L486.7,342.1 L488.0,342.2 L489.3,342.4 L490.6,342.5 L491.9,342.7 L493.2,342.8 L494.5,343.0 L495.8,343.1 L497.1,343.2 L498.4,343.4 L499.7,343.5 L501.0,343.6 L502.3,343.7 L503.6,343.8 L504.9,343.9 L506.2,344.1 L507.5,344.2 L508.8,344.3 L510.1,344.4 L511.4,344.5 L512.7,344.6 L514.0,344.7 L515.4,344.7 L516.7,344.8 L518.0,344.9 L519.3,345.0 L520.6,345.1 L521.9,345.2 L523.2,345.3 L524.5,345.3 L525.8,345.4 L527.1,345.5 L528.4,345.6" stroke="#00c400" stroke-width="2.4" fill="none" stroke-linejoin="round"/>
<path d="M137.0,259.1 L138.3,255.0 L139.6,250.9 L140.9,246.7 L142.2,242.4 L143.5,238.2 L144.8,233.9 L146.1,229.6 L147.4,225.2 L148.7,220.9 L150.0,216.7 L151.4,212.4 L152.7,208.1 L154.0,203.9 L155.3,199.8 L156.6,195.7 L157.9,191.7 L159.2,187.7 L160.5,183.9 L161.8,180.1 L163.1,176.4 L164.4,172.8 L165.7,169.4 L167.0,166.1 L168.3,162.9 L169.6,159.8 L170.9,156.9 L172.2,154.1 L173.5,151.5 L174.8,149.0 L176.1,146.7 L177.4,144.5 L178.7,142.5 L180.1,140.5 L181.4,138.8 L182.7,137.1 L184.0,135.7 L185.3,134.3 L186.6,133.1 L187.9,132.1 L189.2,131.1 L190.5,130.4 L191.8,129.7 L193.1,129.2 L194.4,128.9 L195.7,128.7 L197.0,128.5 L198.3,128.4 L199.6,128.5 L200.9,128.7 L202.2,129.0 L203.5,129.4 L204.8,130.0 L206.1,130.7 L207.5,131.4 L208.8,132.3 L210.1,133.3 L211.4,134.3 L212.7,135.5 L214.0,136.8 L215.3,138.1 L216.6,139.5 L217.9,141.0 L219.2,142.5 L220.5,144.1 L221.8,145.8 L223.1,147.5 L224.4,149.3 L225.7,151.1 L227.0,153.0 L228.3,154.9 L229.6,156.8 L230.9,158.8 L232.2,160.8 L233.5,162.8 L234.8,164.8 L236.2,166.8 L237.5,168.9 L238.8,170.9 L240.1,173.0 L241.4,175.0 L242.7,177.0 L244.0,179.0 L245.3,181.0 L246.6,183.0 L247.9,184.9 L249.2,186.8 L250.5,188.7 L251.8,190.5 L253.1,192.3 L254.4,194.1 L255.7,195.8 L257.0,197.5 L258.3,199.2 L259.6,200.9 L260.9,202.5 L262.2,204.1 L263.6,205.6 L264.9,207.2 L266.2,208.7 L267.5,210.2 L268.8,211.6 L270.1,213.1 L271.4,214.5 L272.7,215.9 L274.0,217.3 L275.3,218.6 L276.6,219.9 L277.9,221.2 L279.2,222.5 L280.5,223.8 L281.8,225.0 L283.1,226.3 L284.4,227.5 L285.7,228.7 L287.0,229.9 L288.3,231.0 L289.6,232.2 L291.0,233.3 L292.3,234.4 L293.6,235.5 L294.9,236.6 L296.2,237.7 L297.5,238.8 L298.8,239.9 L300.1,240.9 L301.4,242.0 L302.7,243.0 L304.0,244.0 L305.3,245.1 L306.6,246.1 L307.9,247.1 L309.2,248.1 L310.5,249.1 L311.8,250.1 L313.1,251.1 L314.4,252.1 L315.7,253.1 L317.0,254.1 L318.3,255.1 L319.7,256.1 L321.0,257.0 L322.3,258.0 L323.6,259.0 L324.9,260.0 L326.2,261.0 L327.5,262.0 L328.8,263.0 L330.1,264.0 L331.4,265.0 L332.7,266.0 L334.0,267.0 L335.3,268.0 L336.6,269.0 L337.9,269.9 L339.2,270.9 L340.5,271.9 L341.8,272.9 L343.1,273.9 L344.4,274.9 L345.7,275.8 L347.1,276.8 L348.4,277.8 L349.7,278.8 L351.0,279.7 L352.3,280.7 L353.6,281.6 L354.9,282.6 L356.2,283.5 L357.5,284.5 L358.8,285.4 L360.1,286.4 L361.4,287.3 L362.7,288.2 L364.0,289.2 L365.3,290.1 L366.6,291.0 L367.9,291.9 L369.2,292.8 L370.5,293.7 L371.8,294.6 L373.1,295.5 L374.4,296.4 L375.8,297.2 L377.1,298.1 L378.4,299.0 L379.7,299.8 L381.0,300.6 L382.3,301.5 L383.6,302.3 L384.9,303.1 L386.2,303.9 L387.5,304.7 L388.8,305.5 L390.1,306.3 L391.4,307.1 L392.7,307.9 L394.0,308.6 L395.3,309.4 L396.6,310.1 L397.9,310.8 L399.2,311.5 L400.5,312.2 L401.8,312.9 L403.2,313.6 L404.5,314.3 L405.8,314.9 L407.1,315.6 L408.4,316.2 L409.7,316.9 L411.0,317.5 L412.3,318.1 L413.6,318.7 L414.9,319.3 L416.2,319.9 L417.5,320.5 L418.8,321.0 L420.1,321.6 L421.4,322.1 L422.7,322.7 L424.0,323.2 L425.3,323.7 L426.6,324.2 L427.9,324.7 L429.2,325.2 L430.6,325.7 L431.9,326.1 L433.2,326.6 L434.5,327.1 L435.8,327.5 L437.1,327.9 L438.4,328.4 L439.7,328.8 L441.0,329.2 L442.3,329.6 L443.6,330.0 L444.9,330.4 L446.2,330.8 L447.5,331.2 L448.8,331.5 L450.1,331.9 L451.4,332.2 L452.7,332.6 L454.0,332.9 L455.3,333.3 L456.6,333.6 L457.9,333.9 L459.3,334.2 L460.6,334.5 L461.9,334.8 L463.2,335.1 L464.5,335.4 L465.8,335.7 L467.1,335.9 L468.4,336.2 L469.7,336.5 L471.0,336.7 L472.3,337.0 L473.6,337.2 L474.9,337.4 L476.2,337.7 L477.5,337.9 L478.8,338.1 L480.1,338.3 L481.4,338.5 L482.7,338.8 L484.0,339.0 L485.3,339.1 L486.7,339.3 L488.0,339.5 L489.3,339.7 L490.6,339.9 L491.9,340.0 L493.2,340.2 L494.5,340.4 L495.8,340.5 L497.1,340.7 L498.4,340.8 L499.7,341.0 L501.0,341.1 L502.3,341.3 L503.6,341.4 L504.9,341.5 L506.2,341.7 L507.5,341.8 L508.8,341.9 L510.1,342.0 L511.4,342.2 L512.7,342.3 L514.0,342.4 L515.4,342.5 L516.7,342.6 L518.0,342.7 L519.3,342.8 L520.6,342.9 L521.9,343.0 L523.2,343.1 L524.5,343.2 L525.8,343.3 L527.1,343.4 L528.4,343.5" stroke="#0000ff" stroke-width="2.4" fill="none" stroke-linejoin="round"/>
<path d="M137.0,247.1 L138.3,241.8 L139.6,236.4 L140.9,231.0 L142.2,225.5 L143.5,220.0 L144.8,214.5 L146.1,209.0 L147.4,203.6 L148.7,198.1 L150.0,192.7 L151.4,187.3 L152.7,182.0 L154.0,176.7 L155.3,171.5 L156.6,166.4 L157.9,161.4 L159.2,156.5 L160.5,151.7 L161.8,147.0 L163.1,142.4 L164.4,138.0 L165.7,133.7 L167.0,129.5 L168.3,125.6 L169.6,121.8 L170.9,118.2 L172.2,114.8 L173.5,111.5 L174.8,108.5 L176.1,105.6 L177.4,102.8 L178.7,100.3 L180.1,97.9 L181.4,95.7 L182.7,93.7 L184.0,91.9 L185.3,90.2 L186.6,88.7 L187.9,87.4 L189.2,86.2 L190.5,85.2 L191.8,84.4 L193.1,83.8 L194.4,83.3 L195.7,83.0 L197.0,82.9 L198.3,82.9 L199.6,83.2 L200.9,83.5 L202.2,84.0 L203.5,84.7 L204.8,85.5 L206.1,86.4 L207.5,87.5 L208.8,88.6 L210.1,89.9 L211.4,91.3 L212.7,92.9 L214.0,94.5 L215.3,96.2 L216.6,98.0 L217.9,99.9 L219.2,101.9 L220.5,103.9 L221.8,106.0 L223.1,108.2 L224.4,110.4 L225.7,112.7 L227.0,115.1 L228.3,117.5 L229.6,119.9 L230.9,122.3 L232.2,124.8 L233.5,127.3 L234.8,129.8 L236.2,132.4 L237.5,134.9 L238.8,137.4 L240.1,140.0 L241.4,142.5 L242.7,145.0 L244.0,147.5 L245.3,149.9 L246.6,152.3 L247.9,154.7 L249.2,157.1 L250.5,159.4 L251.8,161.6 L253.1,163.8 L254.4,166.0 L255.7,168.1 L257.0,170.3 L258.3,172.3 L259.6,174.3 L260.9,176.3 L262.2,178.3 L263.6,180.2 L264.9,182.1 L266.2,184.0 L267.5,185.8 L268.8,187.6 L270.1,189.4 L271.4,191.1 L272.7,192.8 L274.0,194.5 L275.3,196.2 L276.6,197.8 L277.9,199.4 L279.2,201.0 L280.5,202.5 L281.8,204.1 L283.1,205.6 L284.4,207.0 L285.7,208.5 L287.0,210.0 L288.3,211.4 L289.6,212.8 L291.0,214.2 L292.3,215.6 L293.6,216.9 L294.9,218.3 L296.2,219.6 L297.5,220.9 L298.8,222.2 L300.1,223.5 L301.4,224.8 L302.7,226.0 L304.0,227.3 L305.3,228.5 L306.6,229.8 L307.9,231.0 L309.2,232.2 L310.5,233.4 L311.8,234.6 L313.1,235.8 L314.4,237.0 L315.7,238.2 L317.0,239.4 L318.3,240.6 L319.7,241.8 L321.0,243.0 L322.3,244.2 L323.6,245.4 L324.9,246.6 L326.2,247.8 L327.5,249.0 L328.8,250.2 L330.1,251.3 L331.4,252.5 L332.7,253.7 L334.0,254.9 L335.3,256.1 L336.6,257.2 L337.9,258.4 L339.2,259.6 L340.5,260.8 L341.8,261.9 L343.1,263.1 L344.4,264.2 L345.7,265.4 L347.1,266.5 L348.4,267.7 L349.7,268.8 L351.0,270.0 L352.3,271.1 L353.6,272.2 L354.9,273.3 L356.2,274.4 L357.5,275.6 L358.8,276.7 L360.1,277.8 L361.4,278.8 L362.7,279.9 L364.0,281.0 L365.3,282.1 L366.6,283.1 L367.9,284.2 L369.2,285.2 L370.5,286.3 L371.8,287.3 L373.1,288.3 L374.4,289.4 L375.8,290.4 L377.1,291.4 L378.4,292.4 L379.7,293.3 L381.0,294.3 L382.3,295.3 L383.6,296.2 L384.9,297.2 L386.2,298.1 L387.5,299.0 L388.8,299.9 L390.1,300.8 L391.4,301.7 L392.7,302.6 L394.0,303.4 L395.3,304.3 L396.6,305.1 L397.9,306.0 L399.2,306.8 L400.5,307.6 L401.8,308.4 L403.2,309.2 L404.5,309.9 L405.8,310.7 L407.1,311.4 L408.4,312.2 L409.7,312.9 L411.0,313.6 L412.3,314.3 L413.6,315.0 L414.9,315.6 L416.2,316.3 L417.5,316.9 L418.8,317.6 L420.1,318.2 L421.4,318.8 L422.7,319.4 L424.0,320.0 L425.3,320.6 L426.6,321.2 L427.9,321.7 L429.2,322.3 L430.6,322.8 L431.9,323.4 L433.2,323.9 L434.5,324.4 L435.8,324.9 L437.1,325.4 L438.4,325.9 L439.7,326.4 L441.0,326.8 L442.3,327.3 L443.6,327.7 L444.9,328.2 L446.2,328.6 L447.5,329.0 L448.8,329.4 L450.1,329.8 L451.4,330.2 L452.7,330.6 L454.0,331.0 L455.3,331.4 L456.6,331.7 L457.9,332.1 L459.3,332.4 L460.6,332.8 L461.9,333.1 L463.2,333.4 L464.5,333.8 L465.8,334.1 L467.1,334.4 L468.4,334.7 L469.7,335.0 L471.0,335.2 L472.3,335.5 L473.6,335.8 L474.9,336.1 L476.2,336.3 L477.5,336.6 L478.8,336.8 L480.1,337.0 L481.4,337.3 L482.7,337.5 L484.0,337.7 L485.3,338.0 L486.7,338.2 L488.0,338.4 L489.3,338.6 L490.6,338.8 L491.9,339.0 L493.2,339.1 L494.5,339.3 L495.8,339.5 L497.1,339.7 L498.4,339.9 L499.7,340.0 L501.0,340.2 L502.3,340.3 L503.6,340.5 L504.9,340.6 L506.2,340.8 L507.5,340.9 L508.8,341.1 L510.1,341.2 L511.4,341.3 L512.7,341.5 L514.0,341.6 L515.4,341.7 L516.7,341.8 L518.0,341.9 L519.3,342.1 L520.6,342.2 L521.9,342.3 L523.2,342.4 L524.5,342.5 L525.8,342.6 L527.1,342.7 L528.4,342.8" stroke="#ff0000" stroke-width="2.4" fill="none" stroke-linejoin="round"/>
<path d="M137.0,357.8 L137.0,68.8 L528.4,68.8 L528.4,357.8" fill="none" stroke="#111" stroke-width="2.7"/>
<line x1="129" y1="356.5" x2="137.0" y2="356.5" stroke="#111" stroke-width="2.6"/>
<text x="125" y="363.5" class="tb20" text-anchor="end">0</text>
<line x1="129" y1="288.1" x2="137.0" y2="288.1" stroke="#111" stroke-width="2.6"/>
<text x="125" y="295.1" class="tb20" text-anchor="end">5000</text>
<line x1="129" y1="219.7" x2="137.0" y2="219.7" stroke="#111" stroke-width="2.6"/>
<text x="125" y="226.7" class="tb20" text-anchor="end">10000</text>
<line x1="129" y1="151.3" x2="137.0" y2="151.3" stroke="#111" stroke-width="2.6"/>
<text x="125" y="158.3" class="tb20" text-anchor="end">15000</text>
<line x1="129" y1="82.9" x2="137.0" y2="82.9" stroke="#111" stroke-width="2.6"/>
<text x="125" y="89.9" class="tb20" text-anchor="end">20000</text>
<line x1="137.0" y1="356.5" x2="137.0" y2="364" stroke="#111" stroke-width="2.6"/>
<text x="137.0" y="387.5" class="tb20" text-anchor="middle">500</text>
<line x1="215.3" y1="356.5" x2="215.3" y2="364" stroke="#111" stroke-width="2.6"/>
<text x="215.3" y="387.5" class="tb20" text-anchor="middle">520</text>
<line x1="293.6" y1="356.5" x2="293.6" y2="364" stroke="#111" stroke-width="2.6"/>
<text x="293.6" y="387.5" class="tb20" text-anchor="middle">540</text>
<line x1="371.8" y1="356.5" x2="371.8" y2="364" stroke="#111" stroke-width="2.6"/>
<text x="371.8" y="387.5" class="tb20" text-anchor="middle">560</text>
<line x1="450.1" y1="356.5" x2="450.1" y2="364" stroke="#111" stroke-width="2.6"/>
<text x="450.1" y="387.5" class="tb20" text-anchor="middle">580</text>
<line x1="528.4" y1="356.5" x2="528.4" y2="364" stroke="#111" stroke-width="2.6"/>
<text x="528.4" y="387.5" class="tb20" text-anchor="middle">600</text>
<text x="331.8" y="417.4" class="tb24" text-anchor="middle" letter-spacing="0.22">Wavelength (nm)</text>
<text transform="translate(51.3,210.2) rotate(-90)" class="tb25" text-anchor="middle">Fluorescence intensity (RFU)</text>
<text x="5" y="29.5" class="pl">(a)</text>
<polygon points="399,143.5 412.5,156.8 405.5,156.8 405.5,230 393,230 393,156.8 385.5,156.8" fill="#000"/>
<text x="395" y="135" class="tr23" text-anchor="middle" letter-spacing="0.8">950 cP</text>
<text x="397.7" y="254.5" class="tr23" text-anchor="middle" letter-spacing="0.7">0.6 cP</text>
<circle cx="640.1" cy="310.4" r="4.7" fill="#303030"/>
<circle cx="662.2" cy="303.4" r="4.7" fill="#303030"/>
<circle cx="685.9" cy="286.1" r="4.7" fill="#303030"/>
<circle cx="714.9" cy="274.3" r="4.7" fill="#303030"/>
<circle cx="727.0" cy="266.0" r="4.7" fill="#303030"/>
<circle cx="741.0" cy="257.5" r="4.7" fill="#303030"/>
<circle cx="754.8" cy="242.1" r="4.7" fill="#303030"/>
<circle cx="769.0" cy="231.7" r="4.7" fill="#303030"/>
<circle cx="786.6" cy="221.2" r="4.7" fill="#303030"/>
<circle cx="810.4" cy="200.9" r="4.7" fill="#303030"/>
<circle cx="823.9" cy="184.7" r="4.7" fill="#303030"/>
<circle cx="849.8" cy="166.0" r="4.7" fill="#303030"/>
<circle cx="859.9" cy="158.2" r="4.7" fill="#303030"/>
<circle cx="893.4" cy="139.3" r="4.7" fill="#303030"/>
<circle cx="908.4" cy="131.0" r="4.7" fill="#303030"/>
<circle cx="929.0" cy="119.5" r="4.7" fill="#303030"/>
<circle cx="947.2" cy="112.4" r="4.7" fill="#303030"/>
<circle cx="978.8" cy="103.7" r="4.7" fill="#303030"/>
<circle cx="1001.3" cy="94.5" r="4.7" fill="#303030"/>
<line x1="631" y1="318.7" x2="996.5" y2="82.4" stroke="#ff0000" stroke-width="2.2"/>
<rect x="630.7" y="71.5" width="385.1" height="285.8" fill="none" stroke="#111" stroke-width="2.1"/>
<line x1="623.4" y1="357.3" x2="630.7" y2="357.3" stroke="#111" stroke-width="2.1"/>
<text x="618.7" y="364.1" class="tb19" text-anchor="end">2.0</text>
<line x1="623.4" y1="300.2" x2="630.7" y2="300.2" stroke="#111" stroke-width="2.1"/>
<text x="618.7" y="307.0" class="tb19" text-anchor="end">2.5</text>
<line x1="623.4" y1="243.0" x2="630.7" y2="243.0" stroke="#111" stroke-width="2.1"/>
<text x="618.7" y="249.8" class="tb19" text-anchor="end">3.0</text>
<line x1="623.4" y1="185.9" x2="630.7" y2="185.9" stroke="#111" stroke-width="2.1"/>
<text x="618.7" y="192.7" class="tb19" text-anchor="end">3.5</text>
<line x1="623.4" y1="128.7" x2="630.7" y2="128.7" stroke="#111" stroke-width="2.1"/>
<text x="618.7" y="135.5" class="tb19" text-anchor="end">4.0</text>
<line x1="623.4" y1="71.6" x2="630.7" y2="71.6" stroke="#111" stroke-width="2.1"/>
<text x="618.7" y="78.4" class="tb19" text-anchor="end">4.5</text>
<line x1="630.7" y1="357.3" x2="630.7" y2="363.4" stroke="#111" stroke-width="2.1"/>
<text x="630.7" y="387.6" class="tb19" text-anchor="middle">0</text>
<line x1="755.2" y1="357.3" x2="755.2" y2="363.4" stroke="#111" stroke-width="2.1"/>
<text x="755.2" y="387.6" class="tb19" text-anchor="middle">1</text>
<line x1="879.7" y1="357.3" x2="879.7" y2="363.4" stroke="#111" stroke-width="2.1"/>
<text x="879.7" y="387.6" class="tb19" text-anchor="middle">2</text>
<line x1="1004.2" y1="357.3" x2="1004.2" y2="363.4" stroke="#111" stroke-width="2.1"/>
<text x="1004.2" y="387.6" class="tb19" text-anchor="middle">3</text>
<text x="796" y="411.6" class="tb23">log</text><text x="836.5" y="411.8" class="eta">η</text>
<text transform="translate(574.5,236.9) rotate(-90)" class="tb23">log<tspan class="bi">I</tspan><tspan class="bi sub" dy="4">f</tspan></text>
<text x="901.5" y="281.6" class="tr23" text-anchor="middle" letter-spacing="0.3">y=0.7186x + 2.3098</text>
<text x="901.5" y="313.3" class="tr23" text-anchor="middle" letter-spacing="0.6">R<tspan class="sup" dy="-10">2</tspan><tspan dy="10">=0.987</tspan></text>
<text x="557.3" y="30" class="pl">(b)</text>
<text x="13.2" y="454.6" class="pl">(c)</text>
<defs><clipPath id="pc"><rect x="180" y="445" width="716" height="179"/></clipPath>
<filter id="bl" x="-5%" y="-5%" width="110%" height="110%"><feGaussianBlur stdDeviation="1.4"/></filter>
<filter id="glow" x="-30%" y="-30%" width="160%" height="160%"><feGaussianBlur stdDeviation="4"/></filter>
<linearGradient id="band" x1="180" y1="0" x2="896" y2="0" gradientUnits="userSpaceOnUse"><stop offset="0" stop-color="rgb(8,34,84)"/><stop offset="0.42" stop-color="rgb(6,44,94)"/><stop offset="0.52" stop-color="rgb(5,52,94)"/><stop offset="0.62" stop-color="rgb(4,70,88)"/><stop offset="0.78" stop-color="rgb(4,100,90)"/><stop offset="1" stop-color="rgb(4,118,94)"/></linearGradient>
<linearGradient id="bg0" x1="0" y1="0" x2="0" y2="1"><stop offset="0" stop-color="rgb(2,12,32)"/><stop offset="0.3" stop-color="rgb(1,4,10)"/><stop offset="1" stop-color="rgb(1,4,10)"/></linearGradient>
<linearGradient id="lg0" x1="0" y1="0" x2="0" y2="1"><stop offset="0" stop-color="rgb(3,12,18)"/><stop offset="1" stop-color="rgb(2,11,17)"/></linearGradient>
<linearGradient id="bg1" x1="0" y1="0" x2="0" y2="1"><stop offset="0" stop-color="rgb(2,13,34)"/><stop offset="0.3" stop-color="rgb(1,5,11)"/><stop offset="1" stop-color="rgb(1,5,11)"/></linearGradient>
<linearGradient id="lg1" x1="0" y1="0" x2="0" y2="1"><stop offset="0" stop-color="rgb(6,21,25)"/><stop offset="1" stop-color="rgb(4,18,22)"/></linearGradient>
<linearGradient id="bg2" x1="0" y1="0" x2="0" y2="1"><stop offset="0" stop-color="rgb(2,15,35)"/><stop offset="0.3" stop-color="rgb(1,6,12)"/><stop offset="1" stop-color="rgb(1,6,12)"/></linearGradient>
<linearGradient id="lg2" x1="0" y1="0" x2="0" y2="1"><stop offset="0" stop-color="rgb(12,44,21)"/><stop offset="1" stop-color="rgb(9,38,19)"/></linearGradient>
<linearGradient id="bg3" x1="0" y1="0" x2="0" y2="1"><stop offset="0" stop-color="rgb(2,17,35)"/><stop offset="0.3" stop-color="rgb(1,8,13)"/><stop offset="1" stop-color="rgb(1,8,13)"/></linearGradient>
<linearGradient id="lg3" x1="0" y1="0" x2="0" y2="1"><stop offset="0" stop-color="rgb(16,61,23)"/><stop offset="1" stop-color="rgb(12,53,20)"/></linearGradient>
<linearGradient id="bg4" x1="0" y1="0" x2="0" y2="1"><stop offset="0" stop-color="rgb(2,20,36)"/><stop offset="0.3" stop-color="rgb(1,10,14)"/><stop offset="1" stop-color="rgb(1,10,14)"/></linearGradient>
<linearGradient id="lg4" x1="0" y1="0" x2="0" y2="1"><stop offset="0" stop-color="rgb(16,74,25)"/><stop offset="1" stop-color="rgb(12,64,22)"/></linearGradient>
<linearGradient id="bg5" x1="0" y1="0" x2="0" y2="1"><stop offset="0" stop-color="rgb(2,28,38)"/><stop offset="0.3" stop-color="rgb(1,14,16)"/><stop offset="1" stop-color="rgb(1,14,16)"/></linearGradient>
<linearGradient id="lg5" x1="0" y1="0" x2="0" y2="1"><stop offset="0" stop-color="rgb(16,95,29)"/><stop offset="1" stop-color="rgb(12,82,26)"/></linearGradient>
<linearGradient id="bg6" x1="0" y1="0" x2="0" y2="1"><stop offset="0" stop-color="rgb(2,42,42)"/><stop offset="0.3" stop-color="rgb(1,20,20)"/><stop offset="1" stop-color="rgb(1,20,20)"/></linearGradient>
<linearGradient id="lg6" x1="0" y1="0" x2="0" y2="1"><stop offset="0" stop-color="rgb(24,180,37)"/><stop offset="1" stop-color="rgb(18,156,34)"/></linearGradient>
<linearGradient id="bg7" x1="0" y1="0" x2="0" y2="1"><stop offset="0" stop-color="rgb(2,54,40)"/><stop offset="0.3" stop-color="rgb(1,28,22)"/><stop offset="1" stop-color="rgb(1,28,22)"/></linearGradient>
<linearGradient id="lg7" x1="0" y1="0" x2="0" y2="1"><stop offset="0" stop-color="rgb(43,224,42)"/><stop offset="1" stop-color="rgb(32,195,38)"/></linearGradient>
<linearGradient id="bg8" x1="0" y1="0" x2="0" y2="1"><stop offset="0" stop-color="rgb(2,66,38)"/><stop offset="0.3" stop-color="rgb(1,36,22)"/><stop offset="1" stop-color="rgb(1,36,22)"/></linearGradient>
<linearGradient id="lg8" x1="0" y1="0" x2="0" y2="1"><stop offset="0" stop-color="rgb(14,248,65)"/><stop offset="1" stop-color="rgb(10,215,58)"/></linearGradient>
<linearGradient id="bg9" x1="0" y1="0" x2="0" y2="1"><stop offset="0" stop-color="rgb(2,82,40)"/><stop offset="0.3" stop-color="rgb(1,46,24)"/><stop offset="1" stop-color="rgb(1,46,24)"/></linearGradient>
<linearGradient id="lg9" x1="0" y1="0" x2="0" y2="1"><stop offset="0" stop-color="rgb(16,255,96)"/><stop offset="1" stop-color="rgb(12,226,87)"/></linearGradient>
<linearGradient id="bg10" x1="0" y1="0" x2="0" y2="1"><stop offset="0" stop-color="rgb(2,86,42)"/><stop offset="0.3" stop-color="rgb(1,50,26)"/><stop offset="1" stop-color="rgb(1,50,26)"/></linearGradient>
<linearGradient id="lg10" x1="0" y1="0" x2="0" y2="1"><stop offset="0" stop-color="rgb(21,255,99)"/><stop offset="1" stop-color="rgb(16,225,90)"/></linearGradient>
<linearGradient id="fv" x1="0" y1="0" x2="0" y2="1"><stop offset="0" stop-color="#fff" stop-opacity="0.8"/><stop offset="1" stop-color="#fff" stop-opacity="0"/></linearGradient>
<mask id="fm" maskUnits="userSpaceOnUse" x="180" y="505" width="716" height="10"><rect x="180" y="505" width="716" height="10" fill="url(#fv)"/></mask>
<filter id="nz" x="0" y="0" width="100%" height="100%"><feTurbulence type="fractalNoise" baseFrequency="0.22" numOctaves="2" seed="7" result="t"/><feColorMatrix in="t" type="matrix" values="0 0 0 0 0.55  0 0 0 0 0.75  0 0 0 0 1  1.2 0 0 0 -0.45" result="c"/><feComposite in="c" in2="SourceAlpha" operator="in"/></filter>
</defs>
<g clip-path="url(#pc)">
<rect x="180" y="445" width="716" height="179" fill="#010204"/>
<g filter="url(#bl)">
<rect x="180" y="459" width="716" height="46" fill="url(#band)"/>
<rect x="180" y="505" width="716" height="10" fill="url(#band)" mask="url(#fm)"/>
<path d="M200.0,503 L244.0,503 L234.0,607 Q233.0,618 222.0,618 Q211.0,618 210.0,607 Z" fill="url(#bg0)"/>
<path d="M204.2,542 Q222.0,559 239.8,542 L231.8,606 Q231.0,614.5 222.0,614.5 Q213.0,614.5 212.2,606 Z" fill="url(#lg0)"/>
<path d="M205.2,540.5 Q207.5,551 213.0,552 M238.8,540.5 Q236.5,551 231.0,552" stroke="rgb(6,20,30)" stroke-width="4" fill="none" stroke-linecap="round"/>
<path d="M197.0,459 L247.0,459 L249.0,499 L195.0,499 Z" fill="rgb(8,34,84)"/>
<rect x="192.0" y="497" width="60" height="8" rx="4" fill="rgb(28,40,94)"/>
<path d="M264.0,503 L308.0,503 L298.0,607 Q297.0,618 286.0,618 Q275.0,618 274.0,607 Z" fill="url(#bg1)"/>
<path d="M268.2,542 Q286.0,559 303.8,542 L295.8,606 Q295.0,614.5 286.0,614.5 Q277.0,614.5 276.2,606 Z" fill="url(#lg1)"/>
<path d="M269.2,540.5 Q271.5,551 277.0,552 M302.8,540.5 Q300.5,551 295.0,552" stroke="rgb(10,34,44)" stroke-width="4" fill="none" stroke-linecap="round"/>
<path d="M261.0,459 L311.0,459 L313.0,499 L259.0,499 Z" fill="rgb(8,36,88)"/>
<rect x="256.0" y="497" width="60" height="8" rx="4" fill="rgb(28,42,96)"/>
<path d="M325.6,503 L369.6,503 L359.6,607 Q358.6,618 347.6,618 Q336.6,618 335.6,607 Z" fill="url(#bg2)"/>
<path d="M329.8,542 Q347.6,559 365.4,542 L357.4,606 Q356.6,614.5 347.6,614.5 Q338.6,614.5 337.8,606 Z" fill="url(#lg2)"/>
<path d="M330.8,540.5 Q333.1,551 338.6,552 M364.4,540.5 Q362.1,551 356.6,552" stroke="rgb(12,48,44)" stroke-width="4" fill="none" stroke-linecap="round"/>
<path d="M322.6,459 L372.6,459 L374.6,499 L320.6,499 Z" fill="rgb(8,38,92)"/>
<rect x="317.6" y="497" width="60" height="8" rx="4" fill="rgb(26,44,98)"/>
<path d="M391.6,503 L435.6,503 L425.6,607 Q424.6,618 413.6,618 Q402.6,618 401.6,607 Z" fill="url(#bg3)"/>
<path d="M395.8,542 Q413.6,559 431.4,542 L423.4,606 Q422.6,614.5 413.6,614.5 Q404.6,614.5 403.8,606 Z" fill="url(#lg3)"/>
<path d="M396.8,540.5 Q399.1,551 404.6,552 M430.4,540.5 Q428.1,551 422.6,552" stroke="rgb(14,68,56)" stroke-width="4" fill="none" stroke-linecap="round"/>
<path d="M388.6,459 L438.6,459 L440.6,499 L386.6,499 Z" fill="rgb(8,42,94)"/>
<rect x="383.6" y="497" width="60" height="8" rx="4" fill="rgb(22,48,100)"/>
<path d="M457.0,503 L501.0,503 L491.0,607 Q490.0,618 479.0,618 Q468.0,618 467.0,607 Z" fill="url(#bg4)"/>
<path d="M461.2,542 Q479.0,559 496.8,542 L488.8,606 Q488.0,614.5 479.0,614.5 Q470.0,614.5 469.2,606 Z" fill="url(#lg4)"/>
<path d="M462.2,540.5 Q464.5,551 470.0,552 M495.8,540.5 Q493.5,551 488.0,552" stroke="rgb(20,100,80)" stroke-width="4" fill="none" stroke-linecap="round"/>
<path d="M454.0,459 L504.0,459 L506.0,499 L452.0,499 Z" fill="rgb(6,46,96)"/>
<rect x="449.0" y="497" width="60" height="8" rx="4" fill="rgb(16,54,100)"/>
<path d="M521.1,503 L565.1,503 L555.1,607 Q554.1,618 543.1,618 Q532.1,618 531.1,607 Z" fill="url(#bg5)"/>
<path d="M525.3,542 Q543.1,559 560.9,542 L552.9,606 Q552.1,614.5 543.1,614.5 Q534.1,614.5 533.3,606 Z" fill="url(#lg5)"/>
<path d="M526.3,540.5 Q528.6,551 534.1,552 M559.9,540.5 Q557.6,551 552.1,552" stroke="rgb(30,140,100)" stroke-width="4" fill="none" stroke-linecap="round"/>
<path d="M518.1,459 L568.1,459 L570.1,499 L516.1,499 Z" fill="rgb(5,54,94)"/>
<rect x="513.1" y="497" width="60" height="8" rx="4" fill="rgb(8,64,100)"/>
<path d="M585.9,503 L629.9,503 L619.9,607 Q618.9,618 607.9,618 Q596.9,618 595.9,607 Z" fill="url(#bg6)"/>
<path d="M590.1,542 Q607.9,559 625.7,542 L617.7,606 Q616.9,614.5 607.9,614.5 Q598.9,614.5 598.1,606 Z" fill="url(#lg6)"/>
<path d="M591.1,540.5 Q593.4,551 598.9,552 M624.7,540.5 Q622.4,551 616.9,552" stroke="rgb(40,220,80)" stroke-width="4" fill="none" stroke-linecap="round"/>
<path d="M582.9,459 L632.9,459 L634.9,499 L580.9,499 Z" fill="rgb(4,72,88)"/>
<rect x="577.9" y="497" width="60" height="8" rx="4" fill="rgb(6,96,96)"/>
<path d="M645.9,503 L689.9,503 L679.9,607 Q678.9,618 667.9,618 Q656.9,618 655.9,607 Z" fill="url(#bg7)"/>
<path d="M650.1,542 Q667.9,559 685.7,542 L677.7,606 Q676.9,614.5 667.9,614.5 Q658.9,614.5 658.1,606 Z" fill="url(#lg7)"/>
<path d="M651.1,540.5 Q653.4,551 658.9,552 M684.7,540.5 Q682.4,551 676.9,552" stroke="rgb(50,240,80)" stroke-width="4" fill="none" stroke-linecap="round"/>
<path d="M642.9,459 L692.9,459 L694.9,499 L640.9,499 Z" fill="rgb(4,90,88)"/>
<rect x="637.9" y="497" width="60" height="8" rx="4" fill="rgb(6,128,98)"/>
<path d="M710.6,503 L754.6,503 L744.6,607 Q743.6,618 732.6,618 Q721.6,618 720.6,607 Z" fill="url(#bg8)"/>
<path d="M714.8,542 Q732.6,559 750.4,542 L742.4,606 Q741.6,614.5 732.6,614.5 Q723.6,614.5 722.8,606 Z" fill="url(#lg8)"/>
<path d="M715.8,540.5 Q718.1,551 723.6,552 M749.4,540.5 Q747.1,551 741.6,552" stroke="rgb(60,250,110)" stroke-width="4" fill="none" stroke-linecap="round"/>
<path d="M707.6,459 L757.6,459 L759.6,499 L705.6,499 Z" fill="rgb(4,104,90)"/>
<rect x="702.6" y="497" width="60" height="8" rx="4" fill="rgb(6,158,98)"/>
<path d="M776.0,503 L820.0,503 L810.0,607 Q809.0,618 798.0,618 Q787.0,618 786.0,607 Z" fill="url(#bg9)"/>
<path d="M780.2,542 Q798.0,559 815.8,542 L807.8,606 Q807.0,614.5 798.0,614.5 Q789.0,614.5 788.2,606 Z" fill="url(#lg9)"/>
<path d="M781.2,540.5 Q783.5,551 789.0,552 M814.8,540.5 Q812.5,551 807.0,552" stroke="rgb(100,255,150)" stroke-width="4" fill="none" stroke-linecap="round"/>
<path d="M773.0,459 L823.0,459 L825.0,499 L771.0,499 Z" fill="rgb(4,116,92)"/>
<rect x="768.0" y="497" width="60" height="8" rx="4" fill="rgb(8,188,98)"/>
<path d="M841.4,503 L885.4,503 L875.4,607 Q874.4,618 863.4,618 Q852.4,618 851.4,607 Z" fill="url(#bg10)"/>
<path d="M845.6,542 Q863.4,559 881.2,542 L873.2,606 Q872.4,614.5 863.4,614.5 Q854.4,614.5 853.6,606 Z" fill="url(#lg10)"/>
<path d="M846.6,540.5 Q848.9,551 854.4,552 M880.2,540.5 Q877.9,551 872.4,552" stroke="rgb(150,255,170)" stroke-width="4" fill="none" stroke-linecap="round"/>
<path d="M838.4,459 L888.4,459 L890.4,499 L836.4,499 Z" fill="rgb(4,118,94)"/>
<rect x="833.4" y="497" width="60" height="8" rx="4" fill="rgb(10,198,102)"/>
<rect x="180" y="459" width="716" height="48" fill="#fff" filter="url(#nz)" opacity="0.10"/>
<ellipse cx="798.0" cy="553" rx="13" ry="6" fill="none" stroke="rgb(200,255,200)" stroke-width="1.6" opacity="0.35"/>
<ellipse cx="800.0" cy="590" rx="8" ry="9" fill="rgb(170,255,190)" opacity="0.21"/>
<ellipse cx="863.4" cy="553" rx="13" ry="6" fill="none" stroke="rgb(200,255,200)" stroke-width="1.6" opacity="0.55"/>
<ellipse cx="865.4" cy="590" rx="8" ry="9" fill="rgb(170,255,190)" opacity="0.33"/>
<ellipse cx="190.1" cy="477.5" rx="8.2" ry="11.2" fill="#010203"/>
<path d="M187.1,485.5 L193.1,485.5 L199.1,504 L200.6,520 L207.1,580 L212.1,624 L168.1,624 L173.1,580 L179.6,520 L181.1,504 Z" fill="#010203"/>
<ellipse cx="253.8" cy="477.9" rx="8.2" ry="11.2" fill="#010203"/>
<path d="M250.8,485.9 L256.8,485.9 L262.8,504 L264.3,520 L270.8,580 L275.8,624 L231.8,624 L236.8,580 L243.3,520 L244.8,504 Z" fill="#010203"/>
<ellipse cx="318.3" cy="478.3" rx="8.2" ry="11.2" fill="#010203"/>
<path d="M315.3,486.3 L321.3,486.3 L327.3,504 L328.8,520 L335.3,580 L340.3,624 L296.3,624 L301.3,580 L307.8,520 L309.3,504 Z" fill="#010203"/>
<ellipse cx="381.6" cy="478.7" rx="8.2" ry="11.2" fill="#010203"/>
<path d="M378.6,486.7 L384.6,486.7 L390.6,504 L392.1,520 L398.6,580 L403.6,624 L359.6,624 L364.6,580 L371.1,520 L372.6,504 Z" fill="#010203"/>
<ellipse cx="445.3" cy="479.1" rx="8.2" ry="11.2" fill="#010203"/>
<path d="M442.3,487.1 L448.3,487.1 L454.3,504 L455.8,520 L462.3,580 L467.3,624 L423.3,624 L428.3,580 L434.8,520 L436.3,504 Z" fill="#010203"/>
<ellipse cx="509.3" cy="479.5" rx="8.2" ry="11.2" fill="#010203"/>
<path d="M506.3,487.5 L512.3,487.5 L518.3,504 L519.8,520 L526.3,580 L531.3,624 L487.3,624 L492.3,580 L498.8,520 L500.3,504 Z" fill="#010203"/>
<ellipse cx="573.6" cy="480.0" rx="8.2" ry="11.2" fill="#010203"/>
<path d="M570.6,488.0 L576.6,488.0 L582.6,504 L584.1,520 L590.6,580 L595.6,624 L551.6,624 L556.6,580 L563.1,520 L564.6,504 Z" fill="#010203"/>
<ellipse cx="638.0" cy="480.4" rx="8.2" ry="11.2" fill="#010203"/>
<path d="M635.0,488.4 L641.0,488.4 L647.0,504 L648.5,520 L655.0,580 L660.0,624 L616.0,624 L621.0,580 L627.5,520 L629.0,504 Z" fill="#010203"/>
<ellipse cx="700.6" cy="480.8" rx="8.2" ry="11.2" fill="#010203"/>
<path d="M697.6,488.8 L703.6,488.8 L709.6,504 L711.1,520 L717.6,580 L722.6,624 L678.6,624 L683.6,580 L690.1,520 L691.6,504 Z" fill="#010203"/>
<ellipse cx="765.8" cy="481.2" rx="8.2" ry="11.2" fill="#010203"/>
<path d="M762.8,489.2 L768.8,489.2 L774.8,504 L776.3,520 L782.8,580 L787.8,624 L743.8,624 L748.8,580 L755.3,520 L756.8,504 Z" fill="#010203"/>
<ellipse cx="829.7" cy="481.6" rx="8.2" ry="11.2" fill="#010203"/>
<path d="M826.7,489.6 L832.7,489.6 L838.7,504 L840.2,520 L846.7,580 L851.7,624 L807.7,624 L812.7,580 L819.2,520 L820.7,504 Z" fill="#010203"/>
<ellipse cx="890.9" cy="482.0" rx="8.2" ry="11.2" fill="#010203"/>
<path d="M887.9,490.0 L893.9,490.0 L899.9,504 L901.4,520 L907.9,580 L912.9,624 L868.9,624 L873.9,580 L880.4,520 L881.9,504 Z" fill="#010203"/>
<g filter="url(#glow)" opacity="0.3">
<path d="M590.1,542 Q607.9,559 625.7,542 L617.7,606 Q616.9,614.5 607.9,614.5 Q598.9,614.5 598.1,606 Z" fill="rgb(20,170,36)"/>
<path d="M650.1,542 Q667.9,559 685.7,542 L677.7,606 Q676.9,614.5 667.9,614.5 Q658.9,614.5 658.1,606 Z" fill="rgb(36,212,40)"/>
<path d="M714.8,542 Q732.6,559 750.4,542 L742.4,606 Q741.6,614.5 732.6,614.5 Q723.6,614.5 722.8,606 Z" fill="rgb(12,234,62)"/>
<path d="M780.2,542 Q798.0,559 815.8,542 L807.8,606 Q807.0,614.5 798.0,614.5 Q789.0,614.5 788.2,606 Z" fill="rgb(14,246,92)"/>
<path d="M845.6,542 Q863.4,559 881.2,542 L873.2,606 Q872.4,614.5 863.4,614.5 Q854.4,614.5 853.6,606 Z" fill="rgb(18,245,95)"/>
</g>
<circle cx="350.6" cy="484.8" r="2.2" fill="rgb(40,70,230)"/>
<circle cx="374.0" cy="548.8" r="1.3" fill="rgb(40,60,180)"/>
<circle cx="446.7" cy="547.4" r="1.4" fill="rgb(50,60,190)"/>
<circle cx="407.0" cy="611.3" r="1.5" fill="rgb(40,70,220)"/>
<circle cx="790.0" cy="506.0" r="2.2" fill="rgb(20,140,220)"/>
<circle cx="856.0" cy="486.0" r="1.6" fill="rgb(40,110,220)"/>
</g>
</g>
</svg>
</body></html>
